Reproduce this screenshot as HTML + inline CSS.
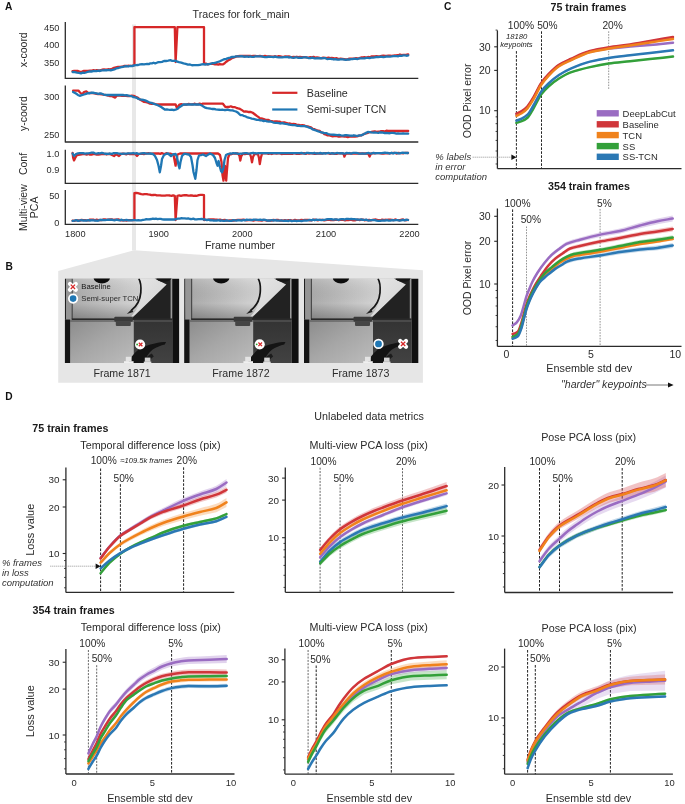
<!DOCTYPE html><html><head><meta charset="utf-8"><style>html,body{margin:0;padding:0;background:#fff;}svg{display:block;will-change:transform;}text{font-family:"Liberation Sans",sans-serif;}</style></head><body>
<svg width="685" height="804" viewBox="0 0 685 804">
<rect x="0" y="0" width="685" height="804" fill="#fff"/>
<defs>
<clipPath id="phClip"><rect x="0" y="0" width="114.5" height="84.5"/></clipPath>
<linearGradient id="gTop" x1="0" y1="0" x2="1" y2="0"><stop offset="0" stop-color="#a8a8a8"/><stop offset="0.35" stop-color="#bebebe"/><stop offset="0.65" stop-color="#d2d2d2"/><stop offset="1" stop-color="#d6d6d6"/></linearGradient>
<linearGradient id="gTopV" x1="0" y1="0" x2="0" y2="1"><stop offset="0" stop-color="#fff" stop-opacity="0.15"/><stop offset="0.6" stop-color="#000" stop-opacity="0"/><stop offset="1" stop-color="#000" stop-opacity="0.25"/></linearGradient>
<linearGradient id="gTri" x1="0" y1="0" x2="1" y2="1"><stop offset="0" stop-color="#e6e6e6"/><stop offset="1" stop-color="#d2d2d2"/></linearGradient>
<linearGradient id="gBot" x1="0" y1="0" x2="1" y2="1"><stop offset="0" stop-color="#8a8a8a"/><stop offset="0.5" stop-color="#a6a6a6"/><stop offset="1" stop-color="#bcbcbc"/></linearGradient>
<linearGradient id="gDark" x1="0" y1="0" x2="0" y2="1"><stop offset="0" stop-color="#333"/><stop offset="1" stop-color="#424242"/></linearGradient>
</defs>
<text x="5.4" y="269.7" font-size="10.2" font-weight="bold" fill="#111">B</text>
<path d="M58.2 271 L134.2 250.2 L422.9 270.2 L422.9 382.7 L58.2 382.7 Z" fill="#e6e6e6"/>
<g transform="translate(64.8 278.6)"><g clip-path="url(#phClip)"><rect x="0" y="0" width="114.5" height="84.5" fill="#a0a0a0"/><rect x="0" y="0" width="108" height="41" fill="url(#gTop)"/><rect x="0" y="0" width="108" height="41" fill="url(#gTopV)"/><rect x="0" y="0" width="1.2" height="84.5" fill="#202020"/><rect x="1.2" y="0" width="5.6" height="41" fill="#959595"/><rect x="6.8" y="0" width="1.2" height="41" fill="#4a4a4a"/><path d="M74 0 L89.7 0 L101.9 5.8 L70.2 36.7 L66 38.2 C71 33, 75 27, 76.5 18 C77 10, 76 5, 74 0 Z" fill="url(#gTri)"/><path d="M89.7 0 L107.5 0 L107.5 41 L66 41 L70.2 36.7 L101.9 5.8 Z" fill="#222"/><rect x="105.8" y="0" width="1.7" height="41" fill="#9a9a9a"/><rect x="107.5" y="0" width="7" height="84.5" fill="#101010"/><rect x="0" y="41" width="69" height="43.5" fill="url(#gBot)"/><rect x="0" y="41" width="5.3" height="43.5" fill="#151515"/><rect x="69" y="41" width="38.5" height="43.5" fill="url(#gDark)"/><rect x="7" y="39.8" width="100.5" height="1.6" fill="#2a2a2a"/><rect x="5.3" y="41.4" width="102" height="2" fill="#5a5a5a" fill-opacity="0.6"/><rect x="49.5" y="38.2" width="18.5" height="5" rx="1" fill="#3a3a3a"/><rect x="51" y="43" width="15" height="4.5" rx="1" fill="#454545"/><ellipse cx="37" cy="-0.5" rx="8.2" ry="5.3" fill="#0c0c0c"/><ellipse cx="99" cy="-0.5" rx="7.5" ry="3.6" fill="#161616"/><path d="M74 0 C75.8 3, 76.5 8, 76 14 C75.3 22, 71.5 28, 66.5 31.8" fill="none" stroke="#151515" stroke-width="1.7"/><path d="M67 30.5 L62 35.5 L68.5 33.5 Z" fill="#222"/><path d="M63.5 84.5 C65 80, 68.5 75.5, 73.8 71 C78 68, 84 66, 90 64.8 C94 64, 98 63.5, 101.3 63.5 L100 66 C96 67, 92 68.5, 88 71 C84 74, 81 79, 79 84.5 Z" fill="#141414"/><path d="M78 84.5 C80 80, 83 77, 87 75 L89 78 C86 80, 85 82, 84 84.5 Z" fill="#1c1c1c"/><rect x="61" y="78.2" width="5.8" height="4.6" fill="#e4e4e4"/><rect x="59.2" y="82.6" width="9.6" height="1.9" fill="#f0f0f0"/><rect x="80" y="79" width="5.6" height="4.2" fill="#d4d4d4"/><rect x="79" y="83" width="7.5" height="1.5" fill="#e0e0e0"/></g></g>
<g transform="translate(184.2 278.6)"><g clip-path="url(#phClip)"><rect x="0" y="0" width="114.5" height="84.5" fill="#a0a0a0"/><rect x="0" y="0" width="108" height="41" fill="url(#gTop)"/><rect x="0" y="0" width="108" height="41" fill="url(#gTopV)"/><rect x="0" y="0" width="1.2" height="84.5" fill="#202020"/><rect x="1.2" y="0" width="5.6" height="41" fill="#959595"/><rect x="6.8" y="0" width="1.2" height="41" fill="#4a4a4a"/><path d="M74 0 L89.7 0 L101.9 5.8 L70.2 36.7 L66 38.2 C71 33, 75 27, 76.5 18 C77 10, 76 5, 74 0 Z" fill="url(#gTri)"/><path d="M89.7 0 L107.5 0 L107.5 41 L66 41 L70.2 36.7 L101.9 5.8 Z" fill="#222"/><rect x="105.8" y="0" width="1.7" height="41" fill="#9a9a9a"/><rect x="107.5" y="0" width="7" height="84.5" fill="#101010"/><rect x="0" y="41" width="69" height="43.5" fill="url(#gBot)"/><rect x="0" y="41" width="5.3" height="43.5" fill="#151515"/><rect x="69" y="41" width="38.5" height="43.5" fill="url(#gDark)"/><rect x="7" y="39.8" width="100.5" height="1.6" fill="#2a2a2a"/><rect x="5.3" y="41.4" width="102" height="2" fill="#5a5a5a" fill-opacity="0.6"/><rect x="49.5" y="38.2" width="18.5" height="5" rx="1" fill="#3a3a3a"/><rect x="51" y="43" width="15" height="4.5" rx="1" fill="#454545"/><ellipse cx="37" cy="-0.5" rx="8.2" ry="5.3" fill="#0c0c0c"/><ellipse cx="99" cy="-0.5" rx="7.5" ry="3.6" fill="#161616"/><path d="M74 0 C75.8 3, 76.5 8, 76 14 C75.3 22, 71.5 28, 66.5 31.8" fill="none" stroke="#151515" stroke-width="1.7"/><path d="M67 30.5 L62 35.5 L68.5 33.5 Z" fill="#222"/><path d="M63.5 84.5 C65 80, 68.5 75.5, 73.8 71 C78 68, 84 66, 90 64.8 C94 64, 98 63.5, 101.3 63.5 L100 66 C96 67, 92 68.5, 88 71 C84 74, 81 79, 79 84.5 Z" fill="#141414"/><path d="M78 84.5 C80 80, 83 77, 87 75 L89 78 C86 80, 85 82, 84 84.5 Z" fill="#1c1c1c"/><rect x="61" y="78.2" width="5.8" height="4.6" fill="#e4e4e4"/><rect x="59.2" y="82.6" width="9.6" height="1.9" fill="#f0f0f0"/><rect x="80" y="79" width="5.6" height="4.2" fill="#d4d4d4"/><rect x="79" y="83" width="7.5" height="1.5" fill="#e0e0e0"/></g></g>
<g transform="translate(304 278.6)"><g clip-path="url(#phClip)"><rect x="0" y="0" width="114.5" height="84.5" fill="#a0a0a0"/><rect x="0" y="0" width="108" height="41" fill="url(#gTop)"/><rect x="0" y="0" width="108" height="41" fill="url(#gTopV)"/><rect x="0" y="0" width="1.2" height="84.5" fill="#202020"/><rect x="1.2" y="0" width="5.6" height="41" fill="#959595"/><rect x="6.8" y="0" width="1.2" height="41" fill="#4a4a4a"/><path d="M74 0 L89.7 0 L101.9 5.8 L70.2 36.7 L66 38.2 C71 33, 75 27, 76.5 18 C77 10, 76 5, 74 0 Z" fill="url(#gTri)"/><path d="M89.7 0 L107.5 0 L107.5 41 L66 41 L70.2 36.7 L101.9 5.8 Z" fill="#222"/><rect x="105.8" y="0" width="1.7" height="41" fill="#9a9a9a"/><rect x="107.5" y="0" width="7" height="84.5" fill="#101010"/><rect x="0" y="41" width="69" height="43.5" fill="url(#gBot)"/><rect x="0" y="41" width="5.3" height="43.5" fill="#151515"/><rect x="69" y="41" width="38.5" height="43.5" fill="url(#gDark)"/><rect x="7" y="39.8" width="100.5" height="1.6" fill="#2a2a2a"/><rect x="5.3" y="41.4" width="102" height="2" fill="#5a5a5a" fill-opacity="0.6"/><rect x="49.5" y="38.2" width="18.5" height="5" rx="1" fill="#3a3a3a"/><rect x="51" y="43" width="15" height="4.5" rx="1" fill="#454545"/><ellipse cx="37" cy="-0.5" rx="8.2" ry="5.3" fill="#0c0c0c"/><ellipse cx="99" cy="-0.5" rx="7.5" ry="3.6" fill="#161616"/><path d="M74 0 C75.8 3, 76.5 8, 76 14 C75.3 22, 71.5 28, 66.5 31.8" fill="none" stroke="#151515" stroke-width="1.7"/><path d="M67 30.5 L62 35.5 L68.5 33.5 Z" fill="#222"/><path d="M63.5 84.5 C65 80, 68.5 75.5, 73.8 71 C78 68, 84 66, 90 64.8 C94 64, 98 63.5, 101.3 63.5 L100 66 C96 67, 92 68.5, 88 71 C84 74, 81 79, 79 84.5 Z" fill="#141414"/><path d="M78 84.5 C80 80, 83 77, 87 75 L89 78 C86 80, 85 82, 84 84.5 Z" fill="#1c1c1c"/><rect x="61" y="78.2" width="5.8" height="4.6" fill="#e4e4e4"/><rect x="59.2" y="82.6" width="9.6" height="1.9" fill="#f0f0f0"/><rect x="80" y="79" width="5.6" height="4.2" fill="#d4d4d4"/><rect x="79" y="83" width="7.5" height="1.5" fill="#e0e0e0"/></g></g>
<text x="122.1" y="376.8" font-size="10.65" text-anchor="middle" fill="#2b2b2b">Frame 1871</text>
<text x="241" y="376.8" font-size="10.65" text-anchor="middle" fill="#2b2b2b">Frame 1872</text>
<text x="360.7" y="376.8" font-size="10.65" text-anchor="middle" fill="#2b2b2b">Frame 1873</text>
<g transform="translate(72.9 286.8)">
<path d="M-2.92 -2.92 L2.92 2.92 M2.92 -2.92 L-2.92 2.92" stroke="#fff" stroke-width="4.2" stroke-linecap="round"/>
<path d="M-2.15 -2.15 L2.15 2.15 M2.15 -2.15 L-2.15 2.15" stroke="#d62728" stroke-width="1.3"/>
</g>
<text x="81.3" y="288.9" font-size="7.7" fill="#151515">Baseline</text>
<circle cx="73.1" cy="298.6" r="4.2" fill="#1f77b4" stroke="#fff" stroke-width="1.8"/>
<text x="81.3" y="301.4" font-size="7.7" fill="#2a2a2a">Semi-super TCN</text>
<circle cx="140.1" cy="344.5" r="5.1" fill="#fff"/>
<circle cx="137.1" cy="344.5" r="0.9" fill="#2ca02c"/>
<path d="M138.8 342.7 l3.6 3.6 M142.4 342.7 l-3.6 3.6" stroke="#d62728" stroke-width="1.3"/>
<circle cx="259.7" cy="344.3" r="5.1" fill="#fff"/>
<circle cx="256.7" cy="344.3" r="0.9" fill="#2ca02c"/>
<path d="M258.4 342.5 l3.6 3.6 M262 342.5 l-3.6 3.6" stroke="#d62728" stroke-width="1.3"/>
<circle cx="378.5" cy="343.9" r="4.3" fill="#1f77b4" stroke="#fff" stroke-width="1.8"/>
<g transform="translate(403.1 343.9)">
<path d="M-2.92 -2.92 L2.92 2.92 M2.92 -2.92 L-2.92 2.92" stroke="#fff" stroke-width="4.2" stroke-linecap="round"/>
<path d="M-2.15 -2.15 L2.15 2.15 M2.15 -2.15 L-2.15 2.15" stroke="#d62728" stroke-width="1.3"/>
</g>
<text x="5" y="9.5" font-size="10.2" font-weight="bold" fill="#111">A</text>
<rect x="132.0" y="24.5" width="4.0" height="226" fill="#e8e8e8"/>
<text x="192.6" y="18.4" font-size="10.65" fill="#2b2b2b">Traces for fork_main</text>
<line x1="65.3" y1="21.9" x2="65.3" y2="78.9" stroke="#2b2b2b" stroke-width="1.3"/>
<line x1="65.3" y1="78.3" x2="418.3" y2="78.3" stroke="#2b2b2b" stroke-width="1.3"/>
<line x1="65.3" y1="85.5" x2="65.3" y2="142.6" stroke="#2b2b2b" stroke-width="1.3"/>
<line x1="65.3" y1="142" x2="418.3" y2="142" stroke="#2b2b2b" stroke-width="1.3"/>
<line x1="65.3" y1="149.8" x2="65.3" y2="183.9" stroke="#2b2b2b" stroke-width="1.3"/>
<line x1="65.3" y1="183.3" x2="418.3" y2="183.3" stroke="#2b2b2b" stroke-width="1.3"/>
<line x1="65.3" y1="190.1" x2="65.3" y2="225" stroke="#2b2b2b" stroke-width="1.3"/>
<line x1="65.3" y1="224.4" x2="418.3" y2="224.4" stroke="#2b2b2b" stroke-width="1.3"/>
<text x="59.4" y="31" font-size="9.2" text-anchor="end" fill="#2b2b2b">450</text>
<text x="59.4" y="48.1" font-size="9.2" text-anchor="end" fill="#2b2b2b">400</text>
<text x="59.4" y="66.1" font-size="9.2" text-anchor="end" fill="#2b2b2b">350</text>
<text x="59.4" y="100.1" font-size="9.2" text-anchor="end" fill="#2b2b2b">300</text>
<text x="59.4" y="138" font-size="9.2" text-anchor="end" fill="#2b2b2b">250</text>
<text x="59.4" y="157" font-size="9.2" text-anchor="end" fill="#2b2b2b">1.0</text>
<text x="59.4" y="173.1" font-size="9.2" text-anchor="end" fill="#2b2b2b">0.9</text>
<text x="59.4" y="199.3" font-size="9.2" text-anchor="end" fill="#2b2b2b">50</text>
<text x="59.4" y="225.6" font-size="9.2" text-anchor="end" fill="#2b2b2b">0</text>
<text x="75.3" y="236.8" font-size="9.2" text-anchor="middle" fill="#2b2b2b">1800</text>
<text x="158.7" y="236.8" font-size="9.2" text-anchor="middle" fill="#2b2b2b">1900</text>
<text x="242.3" y="236.8" font-size="9.2" text-anchor="middle" fill="#2b2b2b">2000</text>
<text x="326" y="236.8" font-size="9.2" text-anchor="middle" fill="#2b2b2b">2100</text>
<text x="409.5" y="236.8" font-size="9.2" text-anchor="middle" fill="#2b2b2b">2200</text>
<text x="205" y="248.9" font-size="10.7" fill="#2b2b2b">Frame number</text>
<text transform="translate(26.9 49.8) rotate(-90)" text-anchor="middle" font-size="10.5" fill="#2b2b2b">x-coord</text>
<text transform="translate(26.9 113.6) rotate(-90)" text-anchor="middle" font-size="10.5" fill="#2b2b2b">y-coord</text>
<text transform="translate(27 164) rotate(-90)" text-anchor="middle" font-size="10.5" fill="#2b2b2b">Conf</text>
<text transform="translate(27 207.6) rotate(-90)" text-anchor="middle" font-size="10.5" fill="#2b2b2b">Multi-view</text>
<text transform="translate(38.2 207.4) rotate(-90)" text-anchor="middle" font-size="10.5" fill="#2b2b2b">PCA</text>
<line x1="272.2" y1="92.8" x2="297.4" y2="92.8" stroke="#d62728" stroke-width="2.2"/>
<line x1="272.2" y1="109.5" x2="297.4" y2="109.5" stroke="#1f77b4" stroke-width="2.2"/>
<text x="306.8" y="96.6" font-size="10.7" fill="#2b2b2b">Baseline</text>
<text x="306.8" y="113.3" font-size="10.7" fill="#2b2b2b">Semi-super TCN</text>
<path d="M72.6 71.2 L74.3 70.84 L76 70.8 L78 70.99 L80 71.8 L82 71.67 L84 70.88 L86 71 L88 70.9 L90 70.61 L92 70.6 L93.6 70.16 L95.2 70.53 L96.8 70.06 L98.4 70.38 L100 70.4 L102 69.75 L104 69.5 L106 69.6 L108 69.27 L110 69.36 L112 68.8 L114 67.86 L116 67.35 L118 67 L120 66.78 L122 66.74 L124 66 L126 66 L128 65.77 L130 65.8 L132.2 65.93 L134.4 65.2 L134.4 27.1 L174.8 27.1 L175.6 62 L177.4 27.1 L204 27.1 L204 64 L205.83 63.64 L207.67 64.42 L209.5 63.96 L211.33 63.88 L213.17 63.91 L215 64.3 L216.6 64.15 L218.2 64.62 L219.8 64.07 L221.4 64.45 L223 64.4 L224.67 63.23 L226.33 61.69 L228 60.5 L230 59.54 L232 58.11 L234 57.5 L236 56.6 L238 56.24 L240 56 L250 56 L251.67 56.19 L253.33 55.98 L255 55.91 L256.67 56.18 L258.33 56.08 L260 55.97 L261.67 56.44 L263.33 56.38 L265 55.99 L266.67 56.32 L268.33 56.3 L270 56.3 L271.75 56.68 L273.5 56.58 L275.25 56.22 L277 56.88 L278.75 56.14 L280.5 56.45 L282.25 56.79 L284 56.6 L285.6 56.33 L287.2 56.67 L288.8 56.31 L290.4 56.91 L292 57.04 L293.6 56.91 L295.2 57.22 L296.8 56.75 L298.4 57.14 L300 57 L301.7 57.12 L303.4 57.15 L305.1 57.08 L306.8 57.47 L308.5 57.6 L310.2 57.22 L311.9 57.43 L313.6 56.92 L315.3 57.54 L317 57.4 L318.64 57.63 L320.27 58.04 L321.91 57.99 L323.55 57.61 L325.18 57.8 L326.82 58.15 L328.45 57.67 L330.09 58.17 L331.73 58 L333.36 58.06 L335 58.5 L336.83 58.24 L338.67 59.01 L340.5 58.57 L342.33 58.81 L344.17 59.07 L346 59.3 L347.67 59.45 L349.33 58.56 L351 58.7 L352.67 58.61 L354.33 58.73 L356 58.2 L357.71 58.32 L359.43 58.18 L361.14 57.49 L362.86 57.44 L364.57 57.22 L366.29 57.52 L368 57 L369.7 57.31 L371.4 56.49 L373.1 56.41 L374.8 56.36 L376.5 56.26 L378.2 56.39 L379.9 56.38 L381.6 55.99 L383.3 55.65 L385 56 L386.66 55.81 L388.31 55.64 L389.97 55.7 L391.63 55.92 L393.29 55.56 L394.94 55.29 L396.6 55.26 L398.26 55.19 L399.91 54.51 L401.57 55.15 L403.23 54.92 L404.89 54.88 L406.54 54.69 L408.2 54.3" fill="none" stroke="#d62728" stroke-width="2.3" stroke-linejoin="round" stroke-linecap="round"/>
<path d="M72.6 72 L74.8 72.2 L77 72.6 L79 72.86 L81 73.3 L82.67 72.68 L84.33 72.89 L86 72.5 L87.83 71.77 L89.67 71.44 L91.5 71.5 L93.2 71.14 L94.9 71 L96.6 71.06 L98.3 70.7 L100 71 L101.79 70.39 L103.57 70.37 L105.36 70.17 L107.14 70.25 L108.93 69.79 L110.71 70.39 L112.5 69.9 L114.33 69.44 L116.17 68.45 L118 68.2 L119.67 67.51 L121.33 67.13 L123 66.8 L124.75 66.48 L126.5 66.06 L128.25 66.51 L130 66 L132.07 66.18 L134.13 65.44 L136.2 65.2 L138.15 64.99 L140.1 64.43 L142.05 64.24 L144 64.4 L145.6 64.06 L147.2 63.79 L148.8 64.1 L150.4 63.3 L152 63.4 L153.6 62.73 L155.2 63.33 L156.8 62.71 L158.4 62.12 L160 62.2 L162 61.84 L164 60.97 L166 61 L168.2 60.63 L170.4 60.2 L172.13 60.8 L173.87 60.86 L175.6 60.7 L177.3 61.63 L179 62.2 L181.25 62.59 L183.5 63.4 L185.75 63.88 L188 64.6 L190 64.5 L192 65.24 L194 65.2 L196 65.1 L198 65.18 L200 64.8 L201.78 64.47 L203.55 64.2 L205.32 64.56 L207.1 64.1 L208.73 64.24 L210.37 63.82 L212 63.2 L213.87 63.08 L215.73 62.69 L217.6 62 L219.8 61.32 L222 60.2 L224.07 59.25 L226.13 58.82 L228.2 58.1 L230.13 57.6 L232.07 56.94 L234 57 L236 56.34 L238 56.33 L240 56.3 L241.73 56.1 L243.47 56.51 L245.2 56.76 L246.93 56.32 L248.67 56.78 L250.4 56.4 L252.03 56.87 L253.67 56.88 L255.3 56.38 L256.93 56.28 L258.57 56.32 L260.2 56.33 L261.83 56.37 L263.47 56.78 L265.1 57.06 L266.73 57.04 L268.37 56.75 L270 56.8 L271.75 56.98 L273.5 57.14 L275.25 56.54 L277 57.09 L278.75 57.36 L280.5 57.28 L282.25 57.29 L284 57.1 L285.6 57.13 L287.2 56.91 L288.8 57.51 L290.4 57.15 L292 57.62 L293.6 57.82 L295.2 57.36 L296.8 57.41 L298.4 57.95 L300 57.6 L301.75 57.85 L303.5 57.4 L305.25 57.41 L307 57.49 L308.75 58.21 L310.5 58.18 L312.25 57.63 L314 58.29 L315.75 58.48 L317.5 58.1 L319.11 58.34 L320.72 58.17 L322.33 58.44 L323.94 58.17 L325.56 58.16 L327.17 59.12 L328.78 58.93 L330.39 58.92 L332 59 L333.75 59.49 L335.5 59.14 L337.25 59.63 L339 59.69 L340.75 59.24 L342.5 59.38 L344.25 59.51 L346 59.8 L347.67 59.4 L349.33 59.54 L351 59.08 L352.67 59.06 L354.33 58.63 L356 58.8 L357.7 59.03 L359.4 58.38 L361.1 58.33 L362.8 58.3 L364.5 58.45 L366.2 57.87 L367.9 57.8 L369.61 58.08 L371.32 57.6 L373.03 57.53 L374.74 57.42 L376.45 56.87 L378.16 57.15 L379.87 56.81 L381.58 56.55 L383.29 57.17 L385 56.8 L386.66 56.41 L388.31 56.58 L389.97 56.7 L391.63 56.45 L393.29 56.14 L394.94 56.22 L396.6 56.15 L398.26 56.26 L399.91 55.55 L401.57 55.85 L403.23 55.47 L404.89 55.4 L406.54 55.75 L408.2 55.4" fill="none" stroke="#1f77b4" stroke-width="2.3" stroke-linejoin="round" stroke-linecap="round"/>
<path d="M73.1 90.6 L78.4 90.6 L80 92.5 L82.3 94.5 L84 92 L86.3 91.4 L88 92.8 L90.4 93.01 L92.8 93.2 L94.6 93.46 L96.4 93.83 L98.2 94.17 L100 94 L101.6 94.25 L103.2 94.7 L104.8 94.9 L106.4 95.21 L108 95.5 L110 96.02 L112 96.2 L113.6 96.86 L115.2 97.6 L117 95.5 L118.75 95.55 L120.5 95.53 L122.25 95.97 L124 95.6 L125.92 95.82 L127.84 96.02 L129.76 96.12 L131.68 95.54 L133.6 95.8 L135.8 96.85 L138 97.8 L140.03 99.57 L142.07 100.84 L144.1 101.9 L146.07 102.14 L148.03 102.69 L150 103.6 L151.8 103.77 L153.6 103.67 L155.4 104.04 L157.2 104.5 L165 104.5 L175.6 104.5 L177 108.2 L179.5 104.5 L181.25 104.07 L183 104.55 L184.75 104.61 L186.5 104.66 L188.25 103.94 L190 104.2 L191.61 104.34 L193.22 104.23 L194.83 103.71 L196.44 104.32 L198.06 104.34 L199.67 103.61 L201.28 104.22 L202.89 103.66 L204.5 103.7 L215 103.7 L222.9 103.7 L225.5 107.1 L227.27 106.82 L229.03 107.01 L230.8 106.3 L232.64 107.12 L234.48 107.04 L236.32 107.8 L238.16 108.39 L240 108.9 L242 110.11 L244 111.6 L245.6 111.4 L247.2 111.59 L248.8 112.02 L250.4 111.9 L252.7 112.77 L255 114.5 L256.8 115.92 L258.6 117.18 L260.4 118.6 L262.02 118.49 L263.64 119.09 L265.27 119.68 L266.89 119.9 L268.51 119.82 L270.13 120.97 L271.76 121.12 L273.38 121.6 L275 121.5 L276.67 121.37 L278.33 121.73 L280 121.75 L281.67 122.64 L283.33 122.4 L285 122.5 L286.67 122.99 L288.33 123.65 L290 123.5 L291.75 124.07 L293.5 123.84 L295.25 124.02 L297 125 L298.75 124.96 L300.5 125.36 L302.25 125.09 L304 125.34 L305.75 126.19 L307.5 126.3 L309.25 126.93 L311 127.32 L312.75 128.79 L314.5 129.22 L316.25 130.07 L318 130.5 L319.6 130.94 L321.2 132.45 L322.8 132.56 L324.4 134.09 L326 134.54 L327.6 135.4 L329.33 135.44 L331.07 135.81 L332.8 136.33 L334.53 135.92 L336.27 135.98 L338 136.5 L339.63 136.62 L341.27 136.46 L342.9 136.45 L344.53 136.6 L346.17 136.6 L347.8 137.1 L349.6 136.68 L351.4 136.63 L353.2 136.47 L355 136.5 L357.07 136.37 L359.13 135.58 L361.2 135.4 L362.8 134.77 L364.4 133.84 L366 133.5 L367.77 132.86 L369.53 132.07 L371.3 132 L373.04 131.66 L374.78 131.32 L376.52 131.85 L378.26 131.57 L380 131.4 L381.6 131.04 L383.2 131.22 L384.8 131.55 L386.4 130.73 L388 131 L400 131 L408.2 131" fill="none" stroke="#d62728" stroke-width="2.3" stroke-linejoin="round" stroke-linecap="round"/>
<path d="M73.1 91.9 L76 93.5 L77.85 94.94 L79.7 95.8 L81.85 95.09 L84 94.5 L86 93.85 L88 93.2 L89.75 93.25 L91.5 92.7 L93.2 92.76 L94.9 93.03 L96.6 93.35 L98.3 93.77 L100 93.5 L101.83 93.73 L103.65 94.55 L105.47 94.81 L107.3 95 L115 95 L123 95 L124.67 95.29 L126.33 95.25 L128 95.5 L129.87 95.9 L131.73 96.17 L133.6 97.1 L135.2 97.32 L136.8 97.81 L138.4 98.97 L140 99.3 L141.68 99.53 L143.35 99.9 L145.02 100.28 L146.7 101.1 L148.47 102.04 L150.23 102.7 L152 103 L153.95 103.98 L155.9 104.45 L157.85 105.24 L159.8 106.3 L161.57 107.25 L163.33 108.53 L165.1 109.7 L166.73 109.43 L168.37 109.72 L170 109.8 L171.87 109.55 L173.73 110.15 L175.6 109.7 L177.3 109.03 L179 107.5 L181.25 106.04 L183.5 104.5 L190 104.5 L199.3 104.5 L201.15 105.12 L203 106.2 L205.05 107.62 L207.1 108.2 L208.73 108.3 L210.37 108.6 L212 109 L213.87 108.78 L215.73 109.36 L217.6 109.7 L219.2 109.75 L220.8 109.85 L222.4 109.66 L224 110 L225.7 110.08 L227.4 109.7 L229.1 110.01 L230.8 110.3 L232.53 110.33 L234.27 111.01 L236 111.5 L238.15 112.84 L240.3 115 L241.92 115.07 L243.53 115.82 L245.15 116.26 L246.77 117.08 L248.38 117.53 L250 118 L251.73 118.61 L253.47 118.91 L255.2 119.34 L256.93 119.87 L258.67 119.82 L260.4 120.3 L262.06 120.39 L263.71 121.22 L265.37 120.71 L267.03 121.47 L268.69 121.64 L270.34 121.35 L272 122 L273.71 122.54 L275.43 122.84 L277.14 122.84 L278.86 123.18 L280.57 123.5 L282.29 123.13 L284 123.7 L285.71 123.95 L287.43 124.16 L289.14 124.69 L290.86 124.89 L292.57 125.14 L294.29 125.15 L296 125.3 L297.64 125.9 L299.29 125.95 L300.93 126.2 L302.57 126.03 L304.21 126.09 L305.86 126.43 L307.5 127 L309.2 127.57 L310.9 128.04 L312.6 129.4 L314.3 129.85 L316 130.5 L317.64 131.13 L319.28 131.65 L320.92 132.22 L322.56 132.57 L324.2 133.1 L326.15 133.03 L328.1 134.12 L330.05 134.45 L332 134.6 L333.8 134.76 L335.6 134.95 L337.4 135.22 L339.2 134.85 L341 135.4 L342.8 135.65 L344.6 135.26 L346.4 135.14 L348.2 135.35 L350 135.6 L351.87 135.77 L353.73 135.27 L355.6 135.72 L357.47 135.89 L359.33 135.43 L361.2 135.4 L364 134 L365.95 132.89 L367.9 132 L369.67 132.11 L371.45 132.42 L373.23 132.62 L375 132.5 L376.62 132.68 L378.25 132.78 L379.88 132.34 L381.5 132.48 L383.12 132.65 L384.75 133.17 L386.38 132.85 L388 133.1 L389.67 133.23 L391.33 132.79 L393 132.9 L394.67 133.16 L396.33 133.59 L398 133.5 L399.7 133.71 L401.4 133.72 L403.1 133.41 L404.8 133.65 L406.5 133.63 L408.2 133.7" fill="none" stroke="#1f77b4" stroke-width="2.3" stroke-linejoin="round" stroke-linecap="round"/>
<path d="M72.6 153 L73.2 158 L74 160.5 L75.2 158 L77 155 L80 154.5 L81.67 154.37 L83.33 153.96 L85 154.2 L86.67 154.57 L88.33 153.95 L90 154.66 L91.67 154.64 L93.33 153.82 L95 154.23 L96.67 154.57 L98.33 154.71 L100 154.3 L101.67 154.2 L103.33 153.99 L105 153.89 L106.67 154.5 L108.33 153.79 L110 154 L112 155.07 L114 156 L116 154.3 L119 156 L121 154 L122.75 153.65 L124.5 153.97 L126.25 154.33 L128 153.57 L129.75 154.16 L131.5 153.86 L133.25 154.17 L135 153.8 L137 156 L139 153.8 L140.63 153.97 L142.26 153.53 L143.89 154.11 L145.53 153.72 L147.16 153.29 L148.79 153.26 L150.42 153.68 L152.05 153.63 L153.68 153.48 L155.32 153.32 L156.95 153.49 L158.58 153.44 L160.21 153.9 L161.84 153.13 L163.47 153.79 L165.11 153.85 L166.74 153.19 L168.37 153.9 L170 153.5 L171.75 154.19 L173.5 154.5 L174.5 160 L175.6 165.7 L176.5 160 L177.5 154.5 L180 153.5 L218 153.5 L220 155 L221.5 162 L222.5 175 L223.5 180.7 L224.3 172 L225 166 L225.7 175 L226.2 180.7 L227 170 L228 158 L229.5 154 L231.2 154.26 L232.9 153.61 L234.6 153.58 L236.3 153.5 L238 153.5 L239.5 156 L240.3 160.6 L241.3 156 L243 153.6 L244.75 154.15 L246.5 153.88 L248.25 153.77 L250 154 L251 157 L252 162.3 L253 157 L254.5 154 L256.25 154.09 L258 154.3 L259 158 L259.8 164 L260.8 158 L262 153.6 L263.62 153.4 L265.24 153.19 L266.86 153.24 L268.48 153.89 L270.1 153.4 L271.72 153.98 L273.34 153.36 L274.96 153.37 L276.58 153.59 L278.2 153.3 L279.82 153.46 L281.44 153.99 L283.06 153.92 L284.68 153.85 L286.3 153.69 L287.92 153.94 L289.54 153.96 L291.16 153.61 L292.78 153.76 L294.4 153.15 L296.02 153.77 L297.64 153.51 L299.26 153.78 L300.88 153.68 L302.5 153.36 L304.12 153.14 L305.74 153.93 L307.36 153.21 L308.98 153.52 L310.6 153.4 L312.22 153.36 L313.84 153.75 L315.46 153.96 L317.08 153.32 L318.7 153.67 L320.32 153.35 L321.94 153.58 L323.56 153.43 L325.18 153.22 L326.8 153.22 L328.42 153.26 L330.04 153.88 L331.66 153.51 L333.28 153.26 L334.9 153.88 L336.52 153.95 L338.14 153.46 L339.76 153.18 L341.38 153.23 L343 153.5 L344 155 L344.4 156.6 L345 155 L346 153.5 L368 153.5 L369 155 L369.6 156.6 L370.3 155 L371 153.5 L372.61 153.11 L374.22 153.31 L375.83 153.07 L377.43 153.18 L379.04 153.17 L380.65 153.43 L382.26 153.7 L383.87 153.55 L385.48 153.23 L387.09 153.21 L388.7 153.28 L390.3 153.13 L391.91 153.07 L393.52 152.8 L395.13 152.97 L396.74 153.57 L398.35 152.79 L399.96 153.11 L401.57 153.2 L403.17 153.39 L404.78 152.79 L406.39 152.82 L408 153" fill="none" stroke="#d62728" stroke-width="2.3" stroke-linejoin="round" stroke-linecap="round"/>
<path d="M72.6 153.5 L74 156 L76 154 L78 153.3 L79.71 153.03 L81.43 153.12 L83.14 153.12 L84.86 153.54 L86.57 153.4 L88.29 153.38 L90 153 L91.67 152.61 L93.33 152.66 L95 153.31 L96.67 153.52 L98.33 153.18 L100 153.33 L101.67 152.84 L103.33 153.24 L105 153.76 L106.67 153.71 L108.33 153.78 L110 153.5 L111.67 153.92 L113.33 153.26 L115 153.12 L116.67 153.16 L118.33 153.48 L120 153.61 L121.67 153.84 L123.33 153.63 L125 153.56 L126.67 153.65 L128.33 153.37 L130 153.4 L131.67 153.45 L133.33 153 L135 153.68 L136.67 153.19 L138.33 153.82 L140 153.58 L141.67 153.28 L143.33 153.13 L145 153.25 L146.67 153.61 L148.33 153.67 L150 153.5 L153 154 L155 156 L157 160 L158.6 166 L159.8 172.3 L161 166 L162 159 L164 155 L166 153.9 L168 153.5 L171 156 L173 154.5 L175.6 154 L177 157 L178.5 165 L179.5 168.3 L180.5 162 L182 156 L184 154 L185.67 153.78 L187.33 154.36 L189 154.5 L191 157 L192.5 165 L193.5 172 L195.3 178.8 L196.5 170 L197.5 160 L199 155.5 L201 155.07 L203 154.5 L206 156 L208 154.65 L210 153.5 L213 155 L215 158 L216.5 163 L217.6 165.7 L218.6 161 L220 167.3 L221 171 L222 172.3 L223.5 168 L224.5 160 L226 155 L228 154 L230 153.5 L231.67 153.57 L233.33 153.03 L235 153.27 L236.67 153.4 L238.33 153.83 L240 153.53 L241.67 153.73 L243.33 153.34 L245 153.11 L246.67 153.11 L248.33 153.73 L250 153.48 L251.67 153.11 L253.33 152.84 L255 153.25 L256.67 153.39 L258.33 153.14 L260 153.2 L300 153.2 L301.6 152.99 L303.2 153.36 L304.8 153.59 L306.4 152.97 L308 152.8 L309.6 153.08 L311.2 153.16 L312.8 153.4 L314.4 152.96 L316 153.51 L317.6 153.46 L319.2 153.25 L320.8 152.99 L322.4 153.68 L324 153.09 L325.6 153.55 L327.2 153.03 L328.8 153.02 L330.4 153.51 L332 153.1 L333.6 153.69 L335.2 153.28 L336.8 153.01 L338.4 153.05 L340 153.3 L341.6 153.22 L343.2 153.44 L344.8 153.69 L346.4 152.97 L348 153.18 L349.6 153.02 L351.2 153.7 L352.8 152.95 L354.4 152.86 L356 152.86 L357.6 153.16 L359.2 153.61 L360.8 153.59 L362.4 153.45 L364 153.69 L365.6 153.62 L367.2 153.08 L368.8 152.94 L370.4 153.62 L372 153.44 L373.6 152.79 L375.2 153.36 L376.8 153.1 L378.4 153.09 L380 153.2 L381.65 153.04 L383.29 152.88 L384.94 152.72 L386.59 152.95 L388.24 153.01 L389.88 153.54 L391.53 152.78 L393.18 153.52 L394.82 152.83 L396.47 152.95 L398.12 153.36 L399.76 153.35 L401.41 152.99 L403.06 152.63 L404.71 153 L406.35 152.9 L408 153" fill="none" stroke="#1f77b4" stroke-width="2.3" stroke-linejoin="round" stroke-linecap="round"/>
<path d="M72.6 220.6 L74.37 220.92 L76.14 220.21 L77.91 220.31 L79.69 220.73 L81.46 219.89 L83.23 220.18 L85 220.2 L86.67 220.44 L88.33 220.35 L90 219.65 L91.67 219.6 L93.33 219.58 L95 220.31 L96.67 219.67 L98.33 220.07 L100 219.8 L101.67 220.09 L103.33 219.52 L105 219.4 L106.67 219.95 L108.33 219.57 L110 219.4 L111.67 219.29 L113.33 219.79 L115 219.53 L116.67 219.6 L118.33 219.45 L120 220 L121.6 220.27 L123.2 220.45 L124.8 220.24 L126.4 220.56 L128 220.2 L134.4 220.2 L134.4 193.1 L136.12 192.84 L137.84 193.21 L139.55 193.6 L141.27 194.2 L142.99 194.37 L144.71 194.03 L146.43 194.09 L148.15 194.42 L149.86 194.65 L151.58 195.21 L153.3 195 L154.98 194.79 L156.65 195.42 L158.32 195.44 L160 195.3 L161.64 195.65 L163.29 195.66 L164.93 195.56 L166.58 195.37 L168.22 195.42 L169.87 195.51 L171.51 195.94 L173.16 195.37 L174.8 195.8 L175.6 220 L177.4 195.8 L179.2 195.48 L181 195.94 L182.8 195.44 L184.6 195.24 L186.4 195.17 L188.2 195.59 L190 195.5 L191.75 195.31 L193.5 195.86 L195.25 195.73 L197 195.79 L198.75 195.1 L200.5 194.9 L202.25 194.87 L204 195.2 L204 220 L205.6 219.88 L207.2 219.95 L208.8 219.59 L210.4 219.28 L212 219.4 L213.6 219.37 L215.2 219.59 L216.8 219.68 L218.4 219.78 L220 219.6 L221.6 220.11 L223.2 220.15 L224.8 219.86 L226.4 220.71 L228 220.6 L229.6 220.33 L231.2 220.5 L232.8 220.25 L234.4 220.49 L236 220.2 L237.8 219.89 L239.6 219.89 L241.4 219.85 L243.2 219.73 L245 220 L246.67 220.37 L248.33 220.11 L250 219.9 L251.67 219.99 L253.33 220.54 L255 220.13 L256.67 219.9 L258.33 220.44 L260 220.32 L261.67 220.64 L263.33 219.86 L265 220.22 L266.67 220.55 L268.33 220.59 L270 220.3 L271.67 220.67 L273.33 219.88 L275 220.1 L276.67 219.94 L278.33 219.99 L280 220.69 L281.67 220.34 L283.33 220.64 L285 220.14 L286.67 220.57 L288.33 220.19 L290 220.02 L291.67 220.48 L293.33 220.62 L295 219.86 L296.67 220.3 L298.33 220.31 L300 220.2 L301.61 219.94 L303.22 220.07 L304.84 219.86 L306.45 219.91 L308.06 219.95 L309.67 220.25 L311.28 220.29 L312.9 219.89 L314.51 219.71 L316.12 219.98 L317.73 220.29 L319.34 219.84 L320.96 219.95 L322.57 219.85 L324.18 220.38 L325.79 220.15 L327.4 219.71 L329.01 219.73 L330.63 219.99 L332.24 220.13 L333.85 220.2 L335.46 219.7 L337.07 219.76 L338.69 220.23 L340.3 219.97 L341.91 219.85 L343.52 219.87 L345.13 220.44 L346.75 219.86 L348.36 220.08 L349.97 219.89 L351.58 219.93 L353.19 220.33 L354.81 220.44 L356.42 219.87 L358.03 219.71 L359.64 220.18 L361.25 219.71 L362.87 219.52 L364.48 220.32 L366.09 219.89 L367.7 220.24 L369.31 219.86 L370.93 220.28 L372.54 219.9 L374.15 219.62 L375.76 219.48 L377.37 219.96 L378.99 220.03 L380.6 220.27 L382.21 219.53 L383.82 220 L385.43 219.77 L387.04 219.88 L388.66 219.55 L390.27 219.67 L391.88 219.88 L393.49 220.24 L395.1 219.5 L396.72 219.83 L398.33 220.11 L399.94 220.25 L401.55 219.55 L403.16 219.48 L404.78 220.21 L406.39 220.23 L408 219.8" fill="none" stroke="#d62728" stroke-width="2.3" stroke-linejoin="round" stroke-linecap="round"/>
<path d="M72.6 220.8 L74.45 220.66 L76.3 220.15 L78.15 220.81 L80 220.3 L81.67 220.22 L83.33 220.71 L85 220.47 L86.67 220.68 L88.33 220.11 L90 220.69 L91.67 220.21 L93.33 220.39 L95 220.5 L96.67 220.73 L98.33 220.64 L100 219.98 L101.67 219.94 L103.33 220.02 L105 220.05 L106.67 219.85 L108.33 219.54 L110 219.8 L111.67 219.62 L113.33 220.09 L115 220.29 L116.67 219.56 L118.33 220.08 L120 220.3 L121.67 219.7 L123.33 220.46 L125 220.2 L126.67 219.87 L128.33 220.31 L130 220.28 L131.67 220.36 L133.33 220.08 L135 220.19 L136.67 220.35 L138.33 220.22 L140 220.3 L141.6 220.24 L143.2 219.85 L144.8 219.64 L146.4 219.07 L148 219.3 L149.6 219.27 L151.2 219.01 L152.8 218.64 L154.4 218.98 L156 218.6 L157.6 219.03 L159.2 218.92 L160.8 218.85 L162.4 219.3 L164 219.5 L175 219.5 L176.6 218.91 L178.2 218.69 L179.8 218.72 L181.4 218.17 L183 218.3 L184.75 218.42 L186.5 218.66 L188.25 218.41 L190 219 L191.67 219.16 L193.33 218.69 L195 219.31 L196.67 219.38 L198.33 219.18 L200 219.2 L201.71 218.94 L203.43 219.49 L205.14 219.52 L206.86 220.18 L208.57 219.59 L210.29 220.38 L212 220.2 L213.6 220.69 L215.2 220.49 L216.8 220.6 L218.4 220.08 L220 220.83 L221.6 220.43 L223.2 220.89 L224.8 220.89 L226.4 220.26 L228 220.6 L229.71 220.83 L231.43 220.93 L233.14 220.12 L234.86 220.35 L236.57 220.69 L238.29 220.12 L240 220.4 L241.67 220.66 L243.33 220 L245 220.38 L246.67 219.68 L248.33 219.9 L250 219.8 L251.71 220.21 L253.43 219.59 L255.14 219.67 L256.86 219.92 L258.57 219.78 L260.29 219.55 L262 220 L263.64 219.77 L265.27 219.8 L266.91 220.56 L268.55 220.38 L270.18 220.63 L271.82 220.03 L273.45 220.64 L275.09 220.09 L276.73 220.52 L278.36 220.67 L280 220.6 L281.67 220.49 L283.33 220.97 L285 220.7 L286.67 220.74 L288.33 221.03 L290 220.34 L291.67 221.16 L293.33 220.85 L295 220.65 L296.67 221.03 L298.33 220.57 L300 220.8 L301.64 221.15 L303.27 220.69 L304.91 220.4 L306.55 220.67 L308.18 220.29 L309.82 219.96 L311.45 220.38 L313.09 219.67 L314.73 220.27 L316.36 219.67 L318 219.8 L319.69 219.89 L321.38 220.17 L323.08 219.78 L324.77 219.82 L326.46 219.48 L328.15 219.17 L329.85 219.17 L331.54 219.24 L333.23 219.63 L334.92 219.43 L336.62 219.47 L338.31 219.79 L340 219.4 L341.6 219.06 L343.2 219.13 L344.8 219.51 L346.4 218.93 L348 218.9 L349.6 219.21 L351.2 218.98 L352.8 219.19 L354.4 219.06 L356 219.3 L357.75 219.5 L359.5 219.63 L361.25 219.41 L363 219.91 L364.75 219.9 L366.5 219.72 L368.25 220.57 L370 220.3 L371.67 220.11 L373.33 220.07 L375 220.07 L376.67 220.6 L378.33 220.86 L380 220.82 L381.67 220.52 L383.33 220.44 L385 220.7 L386.83 220.18 L388.67 220.66 L390.5 220.51 L392.33 220.23 L394.17 220.41 L396 220.2 L397.71 220.12 L399.43 220.54 L401.14 220.32 L402.86 219.86 L404.57 220.42 L406.29 219.62 L408 220" fill="none" stroke="#1f77b4" stroke-width="2.3" stroke-linejoin="round" stroke-linecap="round"/>
<text x="444" y="9.5" font-size="10.2" font-weight="bold" fill="#111">C</text>
<text x="588.5" y="11" font-size="10.7" text-anchor="middle" font-weight="bold" fill="#1a1a1a">75 train frames</text>
<line x1="497.4" y1="30.4" x2="497.4" y2="168.6" stroke="#2b2b2b" stroke-width="1.3"/>
<line x1="494.2" y1="110.7" x2="497.4" y2="110.7" stroke="#2b2b2b" stroke-width="1.1"/>
<text x="490.6" y="114.46" font-size="10.5" text-anchor="end" fill="#2b2b2b">10</text>
<line x1="494.2" y1="70.39" x2="497.4" y2="70.39" stroke="#2b2b2b" stroke-width="1.1"/>
<text x="490.6" y="74.15" font-size="10.5" text-anchor="end" fill="#2b2b2b">20</text>
<line x1="494.2" y1="46.81" x2="497.4" y2="46.81" stroke="#2b2b2b" stroke-width="1.1"/>
<text x="490.6" y="50.57" font-size="10.5" text-anchor="end" fill="#2b2b2b">30</text>
<line x1="495.6" y1="163.98" x2="497.4" y2="163.98" stroke="#2b2b2b" stroke-width="0.9"/>
<line x1="495.6" y1="151.01" x2="497.4" y2="151.01" stroke="#2b2b2b" stroke-width="0.9"/>
<line x1="495.6" y1="140.41" x2="497.4" y2="140.41" stroke="#2b2b2b" stroke-width="0.9"/>
<line x1="495.6" y1="131.44" x2="497.4" y2="131.44" stroke="#2b2b2b" stroke-width="0.9"/>
<line x1="495.6" y1="123.68" x2="497.4" y2="123.68" stroke="#2b2b2b" stroke-width="0.9"/>
<line x1="495.6" y1="116.83" x2="497.4" y2="116.83" stroke="#2b2b2b" stroke-width="0.9"/>
<line x1="495.6" y1="30.08" x2="497.4" y2="30.08" stroke="#2b2b2b" stroke-width="0.9"/>
<line x1="497.4" y1="168.6" x2="681.5" y2="168.6" stroke="#2b2b2b" stroke-width="1.3"/>
<text transform="translate(470.6 100.9) rotate(-90)" text-anchor="middle" font-size="10.5" fill="#2b2b2b">OOD Pixel error</text>
<text x="507.8" y="29.4" font-size="10.25" fill="#2b2b2b">100%</text>
<text x="537.2" y="29.4" font-size="10.2" fill="#2b2b2b">50%</text>
<text x="602.4" y="29.4" font-size="10.2" fill="#2b2b2b">20%</text>
<text x="516.6" y="38.9" font-size="7.7" text-anchor="middle" font-style="italic" fill="#222">18180</text>
<text x="516.4" y="46.6" font-size="7.7" text-anchor="middle" font-style="italic" fill="#222">keypoints</text>
<line x1="516.4" y1="51.1" x2="516.4" y2="168.6" stroke="#222" stroke-width="1" stroke-dasharray="2.6 1.4"/>
<line x1="541.5" y1="31.3" x2="541.5" y2="168.6" stroke="#222" stroke-width="1" stroke-dasharray="2.6 1.4"/>
<line x1="608.7" y1="31.3" x2="608.7" y2="89.2" stroke="#777" stroke-width="0.8" stroke-dasharray="1.6 1.2"/>
<text x="435.3" y="159.7" font-size="9.5" font-style="italic" fill="#333">% labels</text>
<text x="435.3" y="170" font-size="9.5" font-style="italic" fill="#333">in error</text>
<text x="435.3" y="180" font-size="9.5" font-style="italic" fill="#333">computation</text>
<line x1="472.7" y1="157.2" x2="511.4" y2="157.2" stroke="#888" stroke-width="0.9" stroke-dasharray="1 1"/>
<path d="M511.4 154.4 L516.4 157.2 L511.4 160 Z" fill="#111"/>
<path d="M516.4 113.4 C518.17 112.6 519.93 112.03 521.7 111 C523.63 109.87 525.57 108.26 527.5 106.2 C529.47 104.11 531.43 100.63 533.4 97.4 C536.03 93.08 538.67 86.66 541.3 82.8 C543.7 79.28 546.1 76.5 548.5 74 C552 70.35 555.5 66.84 559 64.6 C562.9 62.1 566.8 60.55 570.7 58.8 C577.13 55.91 583.57 52.54 590 51 C596.23 49.5 602.47 48.56 608.7 47.8 C615.8 46.93 622.9 46.41 630 45.8 C636.67 45.22 643.33 44.79 650 44.2 C657.67 43.52 665.33 42.67 673 41.9 L673 43.5 L650 45.8 L630 47.4 L608.7 49.4 L590 52.6 L570.7 60.4 L559 66.2 L548.5 75.6 L541.3 84.4 L533.4 99 L527.5 107.8 L521.7 112.6 L516.4 115 Z" fill="#9a6cc2" fill-opacity="0.3" stroke="none"/>
<path d="M516.4 122.1 C518.17 121.53 519.93 121.14 521.7 120.4 C523.63 119.59 525.57 118.58 527.5 116.9 C529.47 115.19 531.43 110.97 533.4 107.7 C536.03 103.32 538.67 97.05 541.3 93.5 C543.7 90.27 546.1 87.87 548.5 85.7 C552 82.53 555.5 79.87 559 77.7 C562.9 75.28 566.8 73.04 570.7 71.6 C577.13 69.23 583.57 67.73 590 66.3 C596.23 64.91 602.47 63.66 608.7 62.8 C615.8 61.82 622.9 61.29 630 60.5 C636.67 59.76 643.33 58.93 650 58.2 C657.67 57.36 665.33 56.6 673 55.8 L673 57.4 L650 59.8 L630 62.1 L608.7 64.4 L590 67.9 L570.7 73.2 L559 79.3 L548.5 87.3 L541.3 95.1 L533.4 109.3 L527.5 118.5 L521.7 122 L516.4 123.7 Z" fill="#33a03a" fill-opacity="0.3" stroke="none"/>
<path d="M516.4 119.8 C518.17 119.13 519.93 118.65 521.7 117.8 C523.63 116.87 525.57 115.71 527.5 113.9 C529.47 112.05 531.43 107.96 533.4 104.7 C536.03 100.33 538.67 94.17 541.3 90.6 C543.7 87.35 546.1 84.96 548.5 82.7 C552 79.41 555.5 76.49 559 74.2 C562.9 71.64 566.8 69.53 570.7 67.8 C577.13 64.95 583.57 62.44 590 60.8 C596.23 59.21 602.47 58.05 608.7 57.1 C615.8 56.02 622.9 55.34 630 54.5 C636.67 53.71 643.33 52.97 650 52.2 C657.67 51.31 665.33 50.4 673 49.5 L673 51.1 L650 53.8 L630 56.1 L608.7 58.7 L590 62.4 L570.7 69.4 L559 75.8 L548.5 84.3 L541.3 92.2 L533.4 106.3 L527.5 115.5 L521.7 119.4 L516.4 121.4 Z" fill="#2b78b4" fill-opacity="0.3" stroke="none"/>
<path d="M516.4 112.8 C518.17 112 519.93 111.44 521.7 110.4 C523.63 109.27 525.57 107.59 527.5 105.5 C529.47 103.37 531.43 99.83 533.4 96.6 C536.03 92.27 538.67 86.04 541.3 82.2 C543.7 78.7 546.1 75.9 548.5 73.4 C552 69.75 555.5 66.27 559 64 C562.9 61.47 566.8 59.88 570.7 58.1 C577.13 55.17 583.57 51.88 590 50.2 C596.23 48.57 602.47 47.6 608.7 46.6 C615.8 45.46 622.9 44.79 630 43.7 C636.67 42.68 643.33 41.36 650 40.2 C657.67 38.86 665.33 37.53 673 36.2 L673 37.8 L650 41.8 L630 45.3 L608.7 48.2 L590 51.8 L570.7 59.7 L559 65.6 L548.5 75 L541.3 83.8 L533.4 98.2 L527.5 107.1 L521.7 112 L516.4 114.4 Z" fill="#d0363a" fill-opacity="0.3" stroke="none"/>
<path d="M516.4 115 C518.17 114.17 519.93 113.57 521.7 112.5 C523.63 111.33 525.57 109.62 527.5 107.5 C529.47 105.34 531.43 101.85 533.4 98.6 C536.03 94.25 538.67 87.92 541.3 84 C543.7 80.43 546.1 77.56 548.5 75 C552 71.27 555.5 67.69 559 65.4 C562.9 62.85 566.8 61.3 570.7 59.5 C577.13 56.53 583.57 53.09 590 51.4 C596.23 49.76 602.47 48.82 608.7 47.8 C615.8 46.64 622.9 45.85 630 44.8 C636.67 43.82 643.33 42.74 650 41.7 C657.67 40.51 665.33 39.3 673 38.1 L673 39.7 L650 43.3 L630 46.4 L608.7 49.4 L590 53 L570.7 61.1 L559 67 L548.5 76.6 L541.3 85.6 L533.4 100.2 L527.5 109.1 L521.7 114.1 L516.4 116.6 Z" fill="#f0821c" fill-opacity="0.3" stroke="none"/>
<path d="M516.4 114.2 C518.17 113.4 519.93 112.83 521.7 111.8 C523.63 110.67 525.57 109.06 527.5 107 C529.47 104.91 531.43 101.43 533.4 98.2 C536.03 93.88 538.67 87.46 541.3 83.6 C543.7 80.08 546.1 77.3 548.5 74.8 C552 71.15 555.5 67.64 559 65.4 C562.9 62.9 566.8 61.35 570.7 59.6 C577.13 56.71 583.57 53.34 590 51.8 C596.23 50.3 602.47 49.36 608.7 48.6 C615.8 47.73 622.9 47.21 630 46.6 C636.67 46.02 643.33 45.59 650 45 C657.67 44.32 665.33 43.47 673 42.7" fill="none" stroke="#9a6cc2" stroke-width="2.5" stroke-linejoin="round" stroke-linecap="round"/>
<path d="M516.4 122.9 C518.17 122.33 519.93 121.94 521.7 121.2 C523.63 120.39 525.57 119.38 527.5 117.7 C529.47 115.99 531.43 111.77 533.4 108.5 C536.03 104.12 538.67 97.85 541.3 94.3 C543.7 91.07 546.1 88.67 548.5 86.5 C552 83.33 555.5 80.67 559 78.5 C562.9 76.08 566.8 73.84 570.7 72.4 C577.13 70.03 583.57 68.53 590 67.1 C596.23 65.71 602.47 64.46 608.7 63.6 C615.8 62.62 622.9 62.09 630 61.3 C636.67 60.56 643.33 59.73 650 59 C657.67 58.16 665.33 57.4 673 56.6" fill="none" stroke="#33a03a" stroke-width="2.5" stroke-linejoin="round" stroke-linecap="round"/>
<path d="M516.4 120.6 C518.17 119.93 519.93 119.45 521.7 118.6 C523.63 117.67 525.57 116.51 527.5 114.7 C529.47 112.85 531.43 108.76 533.4 105.5 C536.03 101.13 538.67 94.97 541.3 91.4 C543.7 88.15 546.1 85.76 548.5 83.5 C552 80.21 555.5 77.29 559 75 C562.9 72.44 566.8 70.33 570.7 68.6 C577.13 65.75 583.57 63.24 590 61.6 C596.23 60.01 602.47 58.85 608.7 57.9 C615.8 56.82 622.9 56.14 630 55.3 C636.67 54.51 643.33 53.77 650 53 C657.67 52.11 665.33 51.2 673 50.3" fill="none" stroke="#2b78b4" stroke-width="2.5" stroke-linejoin="round" stroke-linecap="round"/>
<path d="M516.4 113.6 C518.17 112.8 519.93 112.24 521.7 111.2 C523.63 110.07 525.57 108.39 527.5 106.3 C529.47 104.17 531.43 100.63 533.4 97.4 C536.03 93.07 538.67 86.84 541.3 83 C543.7 79.5 546.1 76.7 548.5 74.2 C552 70.55 555.5 67.07 559 64.8 C562.9 62.27 566.8 60.68 570.7 58.9 C577.13 55.97 583.57 52.68 590 51 C596.23 49.37 602.47 48.4 608.7 47.4 C615.8 46.26 622.9 45.59 630 44.5 C636.67 43.48 643.33 42.16 650 41 C657.67 39.66 665.33 38.33 673 37" fill="none" stroke="#d0363a" stroke-width="2.5" stroke-linejoin="round" stroke-linecap="round"/>
<path d="M516.4 115.8 C518.17 114.97 519.93 114.37 521.7 113.3 C523.63 112.13 525.57 110.42 527.5 108.3 C529.47 106.14 531.43 102.65 533.4 99.4 C536.03 95.05 538.67 88.72 541.3 84.8 C543.7 81.23 546.1 78.36 548.5 75.8 C552 72.07 555.5 68.49 559 66.2 C562.9 63.65 566.8 62.1 570.7 60.3 C577.13 57.33 583.57 53.89 590 52.2 C596.23 50.56 602.47 49.62 608.7 48.6 C615.8 47.44 622.9 46.65 630 45.6 C636.67 44.62 643.33 43.54 650 42.5 C657.67 41.31 665.33 40.1 673 38.9" fill="none" stroke="#f0821c" stroke-width="2.5" stroke-linejoin="round" stroke-linecap="round"/>
<rect x="596.7" y="110.1" width="22.1" height="6.4" fill="#9a6cc2"/>
<text x="622.6" y="116.7" font-size="9.45" fill="#2b2b2b">DeepLabCut</text>
<rect x="596.7" y="121.1" width="22.1" height="6.4" fill="#d0363a"/>
<text x="622.6" y="127.7" font-size="9.45" fill="#2b2b2b">Baseline</text>
<rect x="596.7" y="131.9" width="22.1" height="6.4" fill="#f0821c"/>
<text x="622.6" y="138.5" font-size="9.45" fill="#2b2b2b">TCN</text>
<rect x="596.7" y="142.9" width="22.1" height="6.4" fill="#33a03a"/>
<text x="622.6" y="149.5" font-size="9.45" fill="#2b2b2b">SS</text>
<rect x="596.7" y="153.6" width="22.1" height="6.4" fill="#2b78b4"/>
<text x="622.6" y="160.2" font-size="9.45" fill="#2b2b2b">SS-TCN</text>
<text x="548" y="189.9" font-size="10.7" font-weight="bold" fill="#1a1a1a">354 train frames</text>
<line x1="497.4" y1="208.5" x2="497.4" y2="346.4" stroke="#2b2b2b" stroke-width="1.3"/>
<line x1="494.2" y1="284" x2="497.4" y2="284" stroke="#2b2b2b" stroke-width="1.1"/>
<text x="490.6" y="287.76" font-size="10.5" text-anchor="end" fill="#2b2b2b">10</text>
<line x1="494.2" y1="241.28" x2="497.4" y2="241.28" stroke="#2b2b2b" stroke-width="1.1"/>
<text x="490.6" y="245.04" font-size="10.5" text-anchor="end" fill="#2b2b2b">20</text>
<line x1="494.2" y1="216.3" x2="497.4" y2="216.3" stroke="#2b2b2b" stroke-width="1.1"/>
<text x="490.6" y="220.06" font-size="10.5" text-anchor="end" fill="#2b2b2b">30</text>
<line x1="495.6" y1="340.47" x2="497.4" y2="340.47" stroke="#2b2b2b" stroke-width="0.9"/>
<line x1="495.6" y1="326.72" x2="497.4" y2="326.72" stroke="#2b2b2b" stroke-width="0.9"/>
<line x1="495.6" y1="315.48" x2="497.4" y2="315.48" stroke="#2b2b2b" stroke-width="0.9"/>
<line x1="495.6" y1="305.98" x2="497.4" y2="305.98" stroke="#2b2b2b" stroke-width="0.9"/>
<line x1="495.6" y1="297.75" x2="497.4" y2="297.75" stroke="#2b2b2b" stroke-width="0.9"/>
<line x1="495.6" y1="290.49" x2="497.4" y2="290.49" stroke="#2b2b2b" stroke-width="0.9"/>
<line x1="497.4" y1="346.4" x2="681.5" y2="346.4" stroke="#2b2b2b" stroke-width="1.3"/>
<text transform="translate(470.6 278) rotate(-90)" text-anchor="middle" font-size="10.5" fill="#2b2b2b">OOD Pixel error</text>
<text x="504.4" y="207" font-size="10.25" fill="#2b2b2b">100%</text>
<text x="520.7" y="223.3" font-size="10.2" fill="#2b2b2b">50%</text>
<text x="597.1" y="206.7" font-size="10.2" fill="#2b2b2b">5%</text>
<line x1="512.6" y1="209.4" x2="512.6" y2="346.4" stroke="#222" stroke-width="1" stroke-dasharray="2.6 1.4"/>
<line x1="526.5" y1="226.5" x2="526.5" y2="346.4" stroke="#777" stroke-width="0.8" stroke-dasharray="1.6 1.2"/>
<line x1="600.1" y1="209" x2="600.1" y2="346.4" stroke="#777" stroke-width="0.8" stroke-dasharray="1.6 1.2"/>
<text x="506.3" y="357.6" font-size="10.5" text-anchor="middle" fill="#2b2b2b">0</text>
<text x="590.8" y="357.6" font-size="10.5" text-anchor="middle" fill="#2b2b2b">5</text>
<text x="675.3" y="357.6" font-size="10.5" text-anchor="middle" fill="#2b2b2b">10</text>
<text x="589.2" y="371.8" font-size="10.8" text-anchor="middle" fill="#2b2b2b">Ensemble std dev</text>
<text x="561" y="387.6" font-size="10.6" font-style="italic" fill="#333">"harder" keypoints</text>
<line x1="646" y1="385" x2="669" y2="385" stroke="#555" stroke-width="0.8"/>
<path d="M668 382.4 L673.6 385.0 L668 387.6 Z" fill="#111"/>
<path d="M512.6 324 C514 322.92 515.4 322.25 516.8 320.76 C518.1 319.37 519.4 317.09 520.7 314.12 C521.63 311.99 522.57 308.04 523.5 304.9 C524.5 301.53 525.5 297.52 526.5 294.57 C527.5 291.62 528.5 289.28 529.5 286.84 C530.47 284.48 531.43 282.1 532.4 280.11 C534.03 276.76 535.67 273.89 537.3 271.27 C539.73 267.37 542.17 263.93 544.6 260.9 C547.03 257.88 549.47 255.1 551.9 252.83 C554.33 250.57 556.77 248.8 559.2 246.96 C561.63 245.13 564.07 242.89 566.5 241.8 C571 239.76 575.5 238.86 580 237.57 C586.7 235.64 593.4 233.76 600.1 232.28 C606.73 230.82 613.37 230.01 620 228.49 C626.67 226.97 633.33 224.58 640 222.81 C645.83 221.26 651.67 219.71 657.5 218.44 C662.57 217.34 667.63 216.48 672.7 215.5 L672.7 221.5 L657.5 224.16 L640 228.19 L620 233.51 L600.1 236.92 L580 241.83 L566.5 245.8 L559.2 250.84 L551.9 256.57 L544.6 264.5 L537.3 274.73 L532.4 283.49 L529.5 290.16 L526.5 297.83 L523.5 308.1 L520.7 317.28 L516.8 323.84 L512.6 327 Z" fill="#9a6cc2" fill-opacity="0.3" stroke="none"/>
<path d="M512.6 332.5 C513.4 332.26 514.2 332.1 515 331.79 C516.03 331.38 517.07 330.89 518.1 329.87 C519.23 328.74 520.37 324.41 521.5 320.94 C522.33 318.39 523.17 314.92 524 311.93 C524.83 308.94 525.67 305.59 526.5 303.01 C527.5 299.92 528.5 297.29 529.5 294.89 C530.47 292.58 531.43 290.62 532.4 288.68 C533.53 286.4 534.67 284.21 535.8 282.26 C537.5 279.32 539.2 276.76 540.9 274.22 C543.33 270.6 545.77 266.83 548.2 263.98 C550.63 261.13 553.07 258.67 555.5 256.63 C557.93 254.59 560.37 253.05 562.8 251.39 C565.23 249.73 567.67 247.56 570.1 246.64 C573.4 245.39 576.7 244.88 580 244.08 C586.7 242.45 593.4 240.92 600.1 239.55 C606.73 238.2 613.37 237.13 620 235.83 C626.67 234.52 633.33 232.88 640 231.7 C645.83 230.68 651.67 229.94 657.5 228.99 C662.57 228.17 667.63 227.26 672.7 226.4 L672.7 231.4 L657.5 233.81 L640 236.3 L620 240.17 L600.1 243.65 L580 247.92 L570.1 250.36 L562.8 255.01 L555.5 260.17 L548.2 267.42 L540.9 277.58 L535.8 285.54 L532.4 291.92 L529.5 298.11 L526.5 306.19 L524 315.07 L521.5 324.06 L518.1 332.93 L515 334.81 L512.6 335.5 Z" fill="#d0363a" fill-opacity="0.28" stroke="none"/>
<path d="M512.6 335.9 C513.4 335.63 514.2 335.45 515 335.1 C516.03 334.64 517.07 334.08 518.1 333 C519.23 331.82 520.37 328.3 521.5 325 C522.33 322.57 523.17 318.78 524 315.7 C524.83 312.62 525.67 309.09 526.5 306.5 C527.5 303.39 528.5 300.88 529.5 298.5 C530.67 295.72 531.83 293.22 533 291 C534.17 288.78 535.33 286.92 536.5 285 C537.77 282.92 539.03 280.79 540.3 279 C541.73 276.97 543.17 274.99 544.6 273.5 C547.03 270.97 549.47 269.3 551.9 267.3 C554.33 265.3 556.77 263.12 559.2 261.5 C561.63 259.88 564.07 258.42 566.5 257.3 C568.93 256.18 571.37 255.05 573.8 254.5 C575.87 254.04 577.93 253.84 580 253.5 C586.7 252.41 593.4 251.37 600.1 250.2 C606.73 249.04 613.37 247.78 620 246.5 C626.67 245.22 633.33 243.58 640 242.5 C645.83 241.55 651.67 240.99 657.5 240.1 C662.57 239.33 667.63 238.37 672.7 237.5 L672.7 240.5 L657.5 243.1 L640 245.5 L620 249.5 L600.1 253.2 L580 256.5 L573.8 257.5 L566.5 260.3 L559.2 264.5 L551.9 270.3 L544.6 276.5 L540.3 282 L536.5 288 L533 294 L529.5 301.5 L526.5 309.5 L524 318.7 L521.5 328 L518.1 336 L515 338.1 L512.6 338.9 Z" fill="#f0821c" fill-opacity="0.28" stroke="none"/>
<path d="M512.6 335.1 C513.4 334.83 514.2 334.65 515 334.29 C516.03 333.82 517.07 333.2 518.1 332.08 C519.23 330.84 520.37 327.32 521.5 323.96 C522.33 321.49 523.17 317.6 524 314.45 C524.83 311.3 525.67 307.68 526.5 305.04 C527.5 301.88 528.5 299.33 529.5 296.93 C530.67 294.13 531.83 291.64 533 289.41 C534.17 287.18 535.33 285.32 536.5 283.4 C537.77 281.31 539.03 279.18 540.3 277.38 C541.73 275.34 543.17 273.38 544.6 271.86 C547.03 269.28 549.47 267.47 551.9 265.43 C554.33 263.39 556.77 261.28 559.2 259.6 C561.63 257.92 564.07 256.34 566.5 255.16 C568.93 253.99 571.37 252.84 573.8 252.23 C575.87 251.72 577.93 251.46 580 251.11 C586.7 249.96 593.4 249.09 600.1 247.92 C606.73 246.76 613.37 245.36 620 244.03 C626.67 242.7 633.33 241.03 640 239.94 C645.83 239 651.67 238.41 657.5 237.57 C662.57 236.83 667.63 235.99 672.7 235.2 L672.7 239.6 L657.5 241.83 L640 244.06 L620 247.97 L600.1 251.68 L580 254.69 L573.8 255.77 L566.5 258.64 L559.2 263 L551.9 268.77 L544.6 275.14 L540.3 280.62 L536.5 286.6 L533 292.59 L529.5 300.07 L526.5 308.16 L524 317.55 L521.5 327.04 L518.1 335.12 L515 337.31 L512.6 338.1 Z" fill="#33a03a" fill-opacity="0.28" stroke="none"/>
<path d="M512.6 337.1 C513.4 336.83 514.2 336.63 515 336.29 C516.03 335.85 517.07 335.43 518.1 334.47 C519.23 333.41 520.37 329.79 521.5 326.44 C522.33 323.99 523.17 320.07 524 316.93 C524.83 313.79 525.67 310.26 526.5 307.61 C527.5 304.44 528.5 301.81 529.5 299.39 C530.67 296.58 531.83 294.2 533 291.87 C534.17 289.54 535.33 287.26 536.5 285.35 C537.77 283.28 539.03 281.28 540.3 279.83 C541.73 278.19 543.17 277.09 544.6 275.8 C545.8 274.72 547 273.68 548.2 272.68 C550.63 270.64 553.07 268.52 555.5 266.83 C557.93 265.15 560.37 263.93 562.8 262.39 C564.03 261.6 565.27 260.52 566.5 259.96 C568.93 258.87 571.37 258.18 573.8 257.62 C575.87 257.14 577.93 256.83 580 256.48 C586.7 255.35 593.4 254.56 600.1 253.45 C606.73 252.36 613.37 250.84 620 249.83 C626.67 248.81 633.33 247.95 640 247.2 C645.83 246.55 651.67 246.22 657.5 245.49 C662.57 244.86 667.63 243.76 672.7 242.9 L672.7 247.9 L657.5 250.31 L640 251.8 L620 254.17 L600.1 257.55 L580 260.32 L573.8 261.38 L566.5 263.64 L562.8 266.01 L555.5 270.37 L548.2 276.12 L544.6 279.2 L540.3 283.17 L536.5 288.65 L533 295.13 L529.5 302.61 L526.5 310.79 L524 320.07 L521.5 329.56 L518.1 337.53 L515 339.31 L512.6 340.1 Z" fill="#2b78b4" fill-opacity="0.28" stroke="none"/>
<path d="M512.6 325.5 C514 324.43 515.4 323.78 516.8 322.3 C518.1 320.93 519.4 318.66 520.7 315.7 C521.63 313.58 522.57 309.63 523.5 306.5 C524.5 303.14 525.5 299.14 526.5 296.2 C527.5 293.26 528.5 290.93 529.5 288.5 C530.47 286.15 531.43 283.77 532.4 281.8 C534.03 278.46 535.67 275.6 537.3 273 C539.73 269.12 542.17 265.7 544.6 262.7 C547.03 259.7 549.47 256.94 551.9 254.7 C554.33 252.46 556.77 250.71 559.2 248.9 C561.63 247.09 564.07 244.87 566.5 243.8 C571 241.82 575.5 240.95 580 239.7 C586.7 237.84 593.4 236.01 600.1 234.6 C606.73 233.2 613.37 232.45 620 231 C626.67 229.55 633.33 227.21 640 225.5 C645.83 224.01 651.67 222.51 657.5 221.3 C662.57 220.25 667.63 219.43 672.7 218.5" fill="none" stroke="#9a6cc2" stroke-width="2.5" stroke-linejoin="round" stroke-linecap="round"/>
<path d="M512.6 334 C513.4 333.77 514.2 333.61 515 333.3 C516.03 332.9 517.07 332.42 518.1 331.4 C519.23 330.28 520.37 325.96 521.5 322.5 C522.33 319.95 523.17 316.48 524 313.5 C524.83 310.52 525.67 307.17 526.5 304.6 C527.5 301.52 528.5 298.88 529.5 296.5 C530.47 294.19 531.43 292.24 532.4 290.3 C533.53 288.03 534.67 285.85 535.8 283.9 C537.5 280.97 539.2 278.42 540.9 275.9 C543.33 272.29 545.77 268.54 548.2 265.7 C550.63 262.86 553.07 260.42 555.5 258.4 C557.93 256.38 560.37 254.85 562.8 253.2 C565.23 251.55 567.67 249.4 570.1 248.5 C573.4 247.28 576.7 246.78 580 246 C586.7 244.42 593.4 242.93 600.1 241.6 C606.73 240.29 613.37 239.26 620 238 C626.67 236.73 633.33 235.13 640 234 C645.83 233.01 651.67 232.31 657.5 231.4 C662.57 230.61 667.63 229.73 672.7 228.9" fill="none" stroke="#d0363a" stroke-width="2.5" stroke-linejoin="round" stroke-linecap="round"/>
<path d="M512.6 337.4 C513.4 337.13 514.2 336.95 515 336.6 C516.03 336.14 517.07 335.58 518.1 334.5 C519.23 333.32 520.37 329.8 521.5 326.5 C522.33 324.07 523.17 320.28 524 317.2 C524.83 314.12 525.67 310.59 526.5 308 C527.5 304.89 528.5 302.38 529.5 300 C530.67 297.22 531.83 294.72 533 292.5 C534.17 290.28 535.33 288.42 536.5 286.5 C537.77 284.42 539.03 282.29 540.3 280.5 C541.73 278.47 543.17 276.49 544.6 275 C547.03 272.47 549.47 270.8 551.9 268.8 C554.33 266.8 556.77 264.62 559.2 263 C561.63 261.38 564.07 259.92 566.5 258.8 C568.93 257.68 571.37 256.55 573.8 256 C575.87 255.54 577.93 255.34 580 255 C586.7 253.91 593.4 252.87 600.1 251.7 C606.73 250.54 613.37 249.28 620 248 C626.67 246.72 633.33 245.08 640 244 C645.83 243.05 651.67 242.49 657.5 241.6 C662.57 240.83 667.63 239.87 672.7 239" fill="none" stroke="#f0821c" stroke-width="2.5" stroke-linejoin="round" stroke-linecap="round"/>
<path d="M512.6 336.6 C513.4 336.33 514.2 336.16 515 335.8 C516.03 335.34 517.07 334.72 518.1 333.6 C519.23 332.37 520.37 328.86 521.5 325.5 C522.33 323.03 523.17 319.15 524 316 C524.83 312.85 525.67 309.23 526.5 306.6 C527.5 303.44 528.5 300.9 529.5 298.5 C530.67 295.7 531.83 293.22 533 291 C534.17 288.78 535.33 286.92 536.5 285 C537.77 282.92 539.03 280.79 540.3 279 C541.73 276.97 543.17 275.02 544.6 273.5 C547.03 270.93 549.47 269.13 551.9 267.1 C554.33 265.07 556.77 262.97 559.2 261.3 C561.63 259.63 564.07 258.07 566.5 256.9 C568.93 255.73 571.37 254.59 573.8 254 C575.87 253.5 577.93 253.25 580 252.9 C586.7 251.78 593.4 250.94 600.1 249.8 C606.73 248.67 613.37 247.3 620 246 C626.67 244.7 633.33 243.05 640 242 C645.83 241.08 651.67 240.52 657.5 239.7 C662.57 238.99 667.63 238.17 672.7 237.4" fill="none" stroke="#33a03a" stroke-width="2.5" stroke-linejoin="round" stroke-linecap="round"/>
<path d="M512.6 338.6 C513.4 338.33 514.2 338.13 515 337.8 C516.03 337.37 517.07 336.95 518.1 336 C519.23 334.95 520.37 331.33 521.5 328 C522.33 325.55 523.17 321.63 524 318.5 C524.83 315.37 525.67 311.84 526.5 309.2 C527.5 306.03 528.5 303.41 529.5 301 C530.67 298.19 531.83 295.82 533 293.5 C534.17 291.18 535.33 288.9 536.5 287 C537.77 284.94 539.03 282.94 540.3 281.5 C541.73 279.87 543.17 278.78 544.6 277.5 C545.8 276.43 547 275.4 548.2 274.4 C550.63 272.38 553.07 270.27 555.5 268.6 C557.93 266.93 560.37 265.73 562.8 264.2 C564.03 263.43 565.27 262.34 566.5 261.8 C568.93 260.73 571.37 260.05 573.8 259.5 C575.87 259.03 577.93 258.73 580 258.4 C586.7 257.31 593.4 256.56 600.1 255.5 C606.73 254.45 613.37 252.97 620 252 C626.67 251.03 633.33 250.2 640 249.5 C645.83 248.89 651.67 248.59 657.5 247.9 C662.57 247.3 667.63 246.23 672.7 245.4" fill="none" stroke="#2b78b4" stroke-width="2.5" stroke-linejoin="round" stroke-linecap="round"/>
<text x="5.3" y="399.8" font-size="10.2" font-weight="bold" fill="#111">D</text>
<text x="314.3" y="420.3" font-size="10.73" fill="#2b2b2b">Unlabeled data metrics</text>
<text x="32.3" y="431.5" font-size="10.7" font-weight="bold" fill="#1a1a1a">75 train frames</text>
<text x="32.6" y="614" font-size="10.7" font-weight="bold" fill="#1a1a1a">354 train frames</text>
<text transform="translate(34.2 529.8) rotate(-90)" text-anchor="middle" font-size="10.9" fill="#2b2b2b">Loss value</text>
<text transform="translate(34.2 711.3) rotate(-90)" text-anchor="middle" font-size="10.9" fill="#2b2b2b">Loss value</text>
<line x1="65.9" y1="467.5" x2="65.9" y2="592.4" stroke="#2b2b2b" stroke-width="1.3"/>
<line x1="62.7" y1="553.5" x2="65.9" y2="553.5" stroke="#2b2b2b" stroke-width="1.1"/>
<text x="59.5" y="557.04" font-size="9.9" text-anchor="end" fill="#2b2b2b">10</text>
<line x1="62.7" y1="506.99" x2="65.9" y2="506.99" stroke="#2b2b2b" stroke-width="1.1"/>
<text x="59.5" y="510.54" font-size="9.9" text-anchor="end" fill="#2b2b2b">20</text>
<line x1="62.7" y1="479.78" x2="65.9" y2="479.78" stroke="#2b2b2b" stroke-width="1.1"/>
<text x="59.5" y="483.33" font-size="9.9" text-anchor="end" fill="#2b2b2b">30</text>
<line x1="64.1" y1="587.78" x2="65.9" y2="587.78" stroke="#2b2b2b" stroke-width="0.9"/>
<line x1="64.1" y1="577.43" x2="65.9" y2="577.43" stroke="#2b2b2b" stroke-width="0.9"/>
<line x1="64.1" y1="568.47" x2="65.9" y2="568.47" stroke="#2b2b2b" stroke-width="0.9"/>
<line x1="64.1" y1="560.57" x2="65.9" y2="560.57" stroke="#2b2b2b" stroke-width="0.9"/>
<line x1="65.9" y1="592.4" x2="234.3" y2="592.4" stroke="#2b2b2b" stroke-width="1.3"/>
<text x="80.3" y="448.8" font-size="10.75" fill="#2b2b2b">Temporal difference loss (pix)</text>
<text x="90.7" y="464.4" font-size="10.2" fill="#2b2b2b">100%</text>
<text x="113.5" y="481.8" font-size="10.2" fill="#2b2b2b">50%</text>
<text x="176.6" y="464.4" font-size="10.2" fill="#2b2b2b">20%</text>
<line x1="100.6" y1="468.5" x2="100.6" y2="592.4" stroke="#222" stroke-width="1" stroke-dasharray="2.6 1.4"/>
<line x1="120.4" y1="484.2" x2="120.4" y2="592.4" stroke="#222" stroke-width="1" stroke-dasharray="2.6 1.4"/>
<line x1="183.6" y1="467.3" x2="183.6" y2="592.4" stroke="#222" stroke-width="1" stroke-dasharray="2.6 1.4"/>
<path d="M100.6 556.5 C103.6 552.62 106.6 548.32 109.6 544.86 C113.2 540.7 116.8 536.57 120.4 533.69 C123.5 531.2 126.6 529.54 129.7 527.54 C133.23 525.26 136.77 523.09 140.3 520.87 C143.83 518.65 147.37 516.2 150.9 514.2 C154.93 511.92 158.97 510.03 163 508.01 C169.8 504.59 176.6 500.95 183.4 497.98 C188.93 495.57 194.47 493.49 200 491.42 C205.43 489.39 210.87 488.21 216.3 485.66 C219.7 484.07 223.1 481.22 226.5 479 L226.5 486 L216.3 492.34 L200 497.58 L183.4 503.62 L163 512.99 L150.9 518.8 L140.3 525.13 L129.7 531.46 L120.4 537.31 L109.6 548.14 L100.6 559.5 Z" fill="#9a6cc2" fill-opacity="0.3" stroke="none"/>
<path d="M100.6 556.9 C103.6 553 106.6 548.67 109.6 545.19 C113.2 541.02 116.8 536.79 120.4 533.96 C123.5 531.53 126.6 529.99 129.7 528.05 C133.23 525.84 136.77 523.69 140.3 521.53 C143.83 519.37 147.37 516.93 150.9 515.1 C154.93 513.01 158.97 511.2 163 509.66 C169.8 507.05 176.6 505.38 183.4 503.01 C188.93 501.08 194.47 498.68 200 496.82 C205.43 494.99 210.87 493.91 216.3 491.82 C219.7 490.51 223.1 488.47 226.5 486.8 L226.5 492.8 L216.3 497.58 L200 502.18 L183.4 507.99 L163 514.14 L150.9 519.3 L140.3 525.47 L129.7 531.75 L120.4 537.44 L109.6 548.41 L100.6 559.9 Z" fill="#d0363a" fill-opacity="0.28" stroke="none"/>
<path d="M100.6 561.2 C103.6 557.9 106.6 554.15 109.6 551.29 C113.2 547.84 116.8 544.78 120.4 542.23 C123.6 539.96 126.8 538.16 130 536.3 C133.43 534.3 136.87 532.46 140.3 530.65 C143.83 528.8 147.37 526.96 150.9 525.3 C154.93 523.41 158.97 521.58 163 520.01 C169.8 517.37 176.6 515.18 183.4 513.03 C188.93 511.28 194.47 509.69 200 508.13 C205.43 506.6 210.87 505.79 216.3 503.74 C219.7 502.46 223.1 499.85 226.5 497.9 L226.5 506.9 L216.3 512.26 L200 515.87 L183.4 519.97 L163 525.99 L150.9 530.7 L140.3 535.55 L130 540.7 L120.4 546.17 L109.6 554.71 L100.6 564.2 Z" fill="#f0821c" fill-opacity="0.28" stroke="none"/>
<path d="M100.6 571.7 C103.6 568.2 106.6 564.13 109.6 561.2 C113.2 557.68 116.8 554.81 120.4 552.2 C123.6 549.88 126.8 547.78 130 546 C133.43 544.09 136.87 542.56 140.3 541 C143.83 539.4 147.37 538.05 150.9 536.5 C154.93 534.73 158.97 532.56 163 531 C169.8 528.37 176.6 526.12 183.4 524.3 C188.93 522.82 194.47 521.74 200 520.5 C205.43 519.28 210.87 518.51 216.3 516.9 C219.7 515.89 223.1 514.03 226.5 512.6 L226.5 515.6 L216.3 519.9 L200 523.5 L183.4 527.3 L163 534 L150.9 539.5 L140.3 544 L130 549 L120.4 555.2 L109.6 564.2 L100.6 574.7 Z" fill="#33a03a" fill-opacity="0.28" stroke="none"/>
<path d="M100.6 567 C103.6 564.33 106.6 561.33 109.6 559 C113.2 556.2 116.8 553.75 120.4 551.6 C123.6 549.69 126.8 548.02 130 546.5 C133.43 544.87 136.87 543.49 140.3 542.1 C143.83 540.67 147.37 539.31 150.9 538 C154.93 536.5 158.97 535.06 163 533.7 C169.8 531.4 176.6 529.11 183.4 527.2 C188.93 525.65 194.47 524.24 200 523 C205.43 521.78 210.87 521.23 216.3 519.7 C219.7 518.74 223.1 516.83 226.5 515.4 L226.5 518.4 L216.3 522.7 L200 526 L183.4 530.2 L163 536.7 L150.9 541 L140.3 545.1 L130 549.5 L120.4 554.6 L109.6 562 L100.6 570 Z" fill="#2b78b4" fill-opacity="0.28" stroke="none"/>
<path d="M100.6 558 C103.6 554.17 106.6 549.91 109.6 546.5 C113.2 542.41 116.8 538.33 120.4 535.5 C123.5 533.06 126.6 531.45 129.7 529.5 C133.23 527.28 136.77 525.17 140.3 523 C143.83 520.83 147.37 518.44 150.9 516.5 C154.93 514.28 158.97 512.46 163 510.5 C169.8 507.19 176.6 503.66 183.4 500.8 C188.93 498.47 194.47 496.48 200 494.5 C205.43 492.56 210.87 491.46 216.3 489 C219.7 487.46 223.1 484.67 226.5 482.5" fill="none" stroke="#9a6cc2" stroke-width="2.5" stroke-linejoin="round" stroke-linecap="round"/>
<path d="M100.6 558.4 C103.6 554.53 106.6 550.24 109.6 546.8 C113.2 542.67 116.8 538.48 120.4 535.7 C123.5 533.31 126.6 531.8 129.7 529.9 C133.23 527.73 136.77 525.62 140.3 523.5 C143.83 521.38 147.37 518.99 150.9 517.2 C154.93 515.16 158.97 513.4 163 511.9 C169.8 509.38 176.6 507.79 183.4 505.5 C188.93 503.64 194.47 501.3 200 499.5 C205.43 497.74 210.87 496.72 216.3 494.7 C219.7 493.44 223.1 491.43 226.5 489.8" fill="none" stroke="#d0363a" stroke-width="2.5" stroke-linejoin="round" stroke-linecap="round"/>
<path d="M100.6 562.7 C103.6 559.47 106.6 555.8 109.6 553 C113.2 549.64 116.8 546.67 120.4 544.2 C123.6 542.01 126.8 540.28 130 538.5 C133.43 536.59 136.87 534.82 140.3 533.1 C143.83 531.33 147.37 529.57 150.9 528 C154.93 526.2 158.97 524.47 163 523 C169.8 520.53 176.6 518.49 183.4 516.5 C188.93 514.88 194.47 513.43 200 512 C205.43 510.6 210.87 509.9 216.3 508 C219.7 506.81 223.1 504.27 226.5 502.4" fill="none" stroke="#f0821c" stroke-width="2.5" stroke-linejoin="round" stroke-linecap="round"/>
<path d="M100.6 573.2 C103.6 569.7 106.6 565.63 109.6 562.7 C113.2 559.18 116.8 556.31 120.4 553.7 C123.6 551.38 126.8 549.28 130 547.5 C133.43 545.59 136.87 544.06 140.3 542.5 C143.83 540.9 147.37 539.55 150.9 538 C154.93 536.23 158.97 534.06 163 532.5 C169.8 529.87 176.6 527.62 183.4 525.8 C188.93 524.32 194.47 523.24 200 522 C205.43 520.78 210.87 520.01 216.3 518.4 C219.7 517.39 223.1 515.53 226.5 514.1" fill="none" stroke="#33a03a" stroke-width="2.5" stroke-linejoin="round" stroke-linecap="round"/>
<path d="M100.6 568.5 C103.6 565.83 106.6 562.83 109.6 560.5 C113.2 557.7 116.8 555.25 120.4 553.1 C123.6 551.19 126.8 549.52 130 548 C133.43 546.37 136.87 544.99 140.3 543.6 C143.83 542.17 147.37 540.81 150.9 539.5 C154.93 538 158.97 536.56 163 535.2 C169.8 532.9 176.6 530.61 183.4 528.7 C188.93 527.15 194.47 525.74 200 524.5 C205.43 523.28 210.87 522.73 216.3 521.2 C219.7 520.24 223.1 518.33 226.5 516.9" fill="none" stroke="#2b78b4" stroke-width="2.5" stroke-linejoin="round" stroke-linecap="round"/>
<text x="120.3" y="463.4" font-size="7.6" font-style="italic" fill="#222">≈109.5k frames</text>
<text x="1.9" y="565.9" font-size="9.5" font-style="italic" fill="#333">% frames</text>
<text x="1.9" y="575.8" font-size="9.5" font-style="italic" fill="#333">in loss</text>
<text x="1.9" y="586" font-size="9.5" font-style="italic" fill="#333">computation</text>
<line x1="50.3" y1="566.2" x2="95.6" y2="566.2" stroke="#888" stroke-width="0.9" stroke-dasharray="1 1"/>
<path d="M95.6 563.4 L100.6 566.2 L95.6 569 Z" fill="#111"/>
<line x1="285.3" y1="467.5" x2="285.3" y2="592.3" stroke="#2b2b2b" stroke-width="1.3"/>
<line x1="282.1" y1="537.7" x2="285.3" y2="537.7" stroke="#2b2b2b" stroke-width="1.1"/>
<text x="278.9" y="541.24" font-size="9.9" text-anchor="end" fill="#2b2b2b">10</text>
<line x1="282.1" y1="500.1" x2="285.3" y2="500.1" stroke="#2b2b2b" stroke-width="1.1"/>
<text x="278.9" y="503.65" font-size="9.9" text-anchor="end" fill="#2b2b2b">20</text>
<line x1="282.1" y1="478.11" x2="285.3" y2="478.11" stroke="#2b2b2b" stroke-width="1.1"/>
<text x="278.9" y="481.65" font-size="9.9" text-anchor="end" fill="#2b2b2b">30</text>
<line x1="283.5" y1="587.4" x2="285.3" y2="587.4" stroke="#2b2b2b" stroke-width="0.9"/>
<line x1="283.5" y1="575.3" x2="285.3" y2="575.3" stroke="#2b2b2b" stroke-width="0.9"/>
<line x1="283.5" y1="565.41" x2="285.3" y2="565.41" stroke="#2b2b2b" stroke-width="0.9"/>
<line x1="283.5" y1="557.05" x2="285.3" y2="557.05" stroke="#2b2b2b" stroke-width="0.9"/>
<line x1="283.5" y1="549.8" x2="285.3" y2="549.8" stroke="#2b2b2b" stroke-width="0.9"/>
<line x1="283.5" y1="543.42" x2="285.3" y2="543.42" stroke="#2b2b2b" stroke-width="0.9"/>
<line x1="285.3" y1="592.3" x2="454.4" y2="592.3" stroke="#2b2b2b" stroke-width="1.3"/>
<text x="309.6" y="448.6" font-size="10.75" fill="#2b2b2b">Multi-view PCA loss (pix)</text>
<text x="310.5" y="464.9" font-size="10.2" fill="#2b2b2b">100%</text>
<text x="333.4" y="481.8" font-size="10.2" fill="#2b2b2b">50%</text>
<text x="395.9" y="464.9" font-size="10.2" fill="#2b2b2b">20%</text>
<line x1="320.1" y1="467.7" x2="320.1" y2="592.3" stroke="#555" stroke-width="0.9" stroke-dasharray="2 1.3"/>
<line x1="340.1" y1="484.1" x2="340.1" y2="592.3" stroke="#555" stroke-width="0.9" stroke-dasharray="2 1.3"/>
<line x1="402.5" y1="468" x2="402.5" y2="592.3" stroke="#555" stroke-width="0.9" stroke-dasharray="2 1.3"/>
<path d="M320.2 555.2 C323.47 551.47 326.73 547.27 330 544 C333.37 540.63 336.73 537.54 340.1 535 C343.93 532.1 347.77 529.76 351.6 527.5 C355.3 525.31 359 523.27 362.7 521.5 C369.47 518.27 376.23 515.77 383 513 C389.5 510.34 396 507.53 402.5 505.2 C408.33 503.11 414.17 501.34 420 499.5 C428.87 496.7 437.73 494.1 446.6 491.4 L446.6 495.4 L420 503.5 L402.5 509.2 L383 517 L362.7 525.5 L351.6 531.5 L340.1 539 L330 548 L320.2 559.2 Z" fill="#9a6cc2" fill-opacity="0.28" stroke="none"/>
<path d="M320.2 547.4 C323.47 543.56 326.73 539.28 330 535.88 C333.37 532.38 336.73 529.07 340.1 526.46 C343.93 523.5 347.77 521.18 351.6 518.93 C355.3 516.75 359 514.82 362.7 513 C366.43 511.15 370.17 509.45 373.9 507.86 C376.93 506.58 379.97 505.42 383 504.25 C389.5 501.75 396 499.28 402.5 497.02 C408.33 495 414.17 493.28 420 491.32 C428.87 488.33 437.73 485.11 446.6 482 L446.6 490 L420 498.68 L402.5 503.98 L383 510.75 L373.9 514.14 L362.7 519 L351.6 524.67 L340.1 531.94 L330 541.12 L320.2 552.4 Z" fill="#d0363a" fill-opacity="0.28" stroke="none"/>
<path d="M320.2 552.3 C323.47 548.47 326.73 544.15 330 540.8 C333.37 537.34 336.73 534.19 340.1 531.6 C343.93 528.65 347.77 526.28 351.6 524 C355.3 521.8 359 519.77 362.7 518 C369.47 514.77 376.23 512.15 383 509.5 C389.5 506.95 396 504.5 402.5 502.3 C408.33 500.32 414.17 498.6 420 496.8 C428.87 494.07 437.73 491.47 446.6 488.8 L446.6 491.8 L420 499.8 L402.5 505.3 L383 512.5 L362.7 521 L351.6 527 L340.1 534.6 L330 543.8 L320.2 555.3 Z" fill="#f0821c" fill-opacity="0.25" stroke="none"/>
<path d="M320.2 559.2 C323.47 555.47 326.73 551.15 330 548 C333.37 544.76 336.73 541.9 340.1 539.6 C343.93 536.99 347.77 535.04 351.6 533 C355.3 531.03 359 529 362.7 527.5 C369.47 524.77 376.23 522.92 383 520.8 C389.5 518.77 396 516.75 402.5 515 C408.33 513.43 414.17 512.19 420 510.7 C428.87 508.44 437.73 505.97 446.6 503.6 L446.6 508.6 L420 515.7 L402.5 520 L383 525.8 L362.7 532.5 L351.6 538 L340.1 544.6 L330 553 L320.2 564.2 Z" fill="#2b78b4" fill-opacity="0.28" stroke="none"/>
<path d="M320.2 560.8 C323.47 557.51 326.73 553.74 330 550.92 C333.37 548.02 336.73 545.54 340.1 543.34 C343.93 540.84 347.77 538.81 351.6 536.75 C355.3 534.77 359 532.7 362.7 531.16 C369.47 528.35 376.23 526.41 383 524.2 C389.5 522.09 396 519.96 402.5 518.15 C408.33 516.52 414.17 515.15 420 513.71 C428.87 511.52 437.73 509.44 446.6 507.3 L446.6 514.3 L420 520.29 L402.5 524.45 L383 530.2 L362.7 536.84 L351.6 542.25 L340.1 548.66 L330 556.08 L320.2 565.8 Z" fill="#33a03a" fill-opacity="0.28" stroke="none"/>
<path d="M320.2 557.2 C323.47 553.47 326.73 549.27 330 546 C333.37 542.63 336.73 539.54 340.1 537 C343.93 534.1 347.77 531.76 351.6 529.5 C355.3 527.31 359 525.27 362.7 523.5 C369.47 520.27 376.23 517.77 383 515 C389.5 512.34 396 509.53 402.5 507.2 C408.33 505.11 414.17 503.34 420 501.5 C428.87 498.7 437.73 496.1 446.6 493.4" fill="none" stroke="#9a6cc2" stroke-width="2.5" stroke-linejoin="round" stroke-linecap="round"/>
<path d="M320.2 549.9 C323.47 546.1 326.73 541.86 330 538.5 C333.37 535.04 336.73 531.76 340.1 529.2 C343.93 526.28 347.77 524.01 351.6 521.8 C355.3 519.67 359 517.78 362.7 516 C366.43 514.2 370.17 512.54 373.9 511 C376.93 509.75 379.97 508.63 383 507.5 C389.5 505.08 396 502.68 402.5 500.5 C408.33 498.55 414.17 496.9 420 495 C428.87 492.12 437.73 489 446.6 486" fill="none" stroke="#d0363a" stroke-width="2.5" stroke-linejoin="round" stroke-linecap="round"/>
<path d="M320.2 553.8 C323.47 549.97 326.73 545.65 330 542.3 C333.37 538.84 336.73 535.69 340.1 533.1 C343.93 530.15 347.77 527.78 351.6 525.5 C355.3 523.3 359 521.27 362.7 519.5 C369.47 516.27 376.23 513.65 383 511 C389.5 508.45 396 506 402.5 503.8 C408.33 501.82 414.17 500.1 420 498.3 C428.87 495.57 437.73 492.97 446.6 490.3" fill="none" stroke="#f0821c" stroke-width="2.5" stroke-linejoin="round" stroke-linecap="round"/>
<path d="M320.2 561.7 C323.47 557.97 326.73 553.65 330 550.5 C333.37 547.26 336.73 544.4 340.1 542.1 C343.93 539.49 347.77 537.54 351.6 535.5 C355.3 533.53 359 531.5 362.7 530 C369.47 527.27 376.23 525.42 383 523.3 C389.5 521.27 396 519.25 402.5 517.5 C408.33 515.93 414.17 514.69 420 513.2 C428.87 510.94 437.73 508.47 446.6 506.1" fill="none" stroke="#2b78b4" stroke-width="2.5" stroke-linejoin="round" stroke-linecap="round"/>
<path d="M320.2 563.3 C323.47 560.03 326.73 556.29 330 553.5 C333.37 550.63 336.73 548.17 340.1 546 C343.93 543.53 347.77 541.52 351.6 539.5 C355.3 537.55 359 535.51 362.7 534 C369.47 531.24 376.23 529.35 383 527.2 C389.5 525.13 396 523.06 402.5 521.3 C408.33 519.72 414.17 518.4 420 517 C428.87 514.87 437.73 512.87 446.6 510.8" fill="none" stroke="#33a03a" stroke-width="2.5" stroke-linejoin="round" stroke-linecap="round"/>
<line x1="504.7" y1="467" x2="504.7" y2="592.5" stroke="#2b2b2b" stroke-width="1.3"/>
<line x1="501.5" y1="536" x2="504.7" y2="536" stroke="#2b2b2b" stroke-width="1.1"/>
<text x="499.1" y="539.54" font-size="9.9" text-anchor="end" fill="#2b2b2b">10</text>
<line x1="501.5" y1="485.01" x2="504.7" y2="485.01" stroke="#2b2b2b" stroke-width="1.1"/>
<text x="499.1" y="488.55" font-size="9.9" text-anchor="end" fill="#2b2b2b">20</text>
<line x1="502.9" y1="586.99" x2="504.7" y2="586.99" stroke="#2b2b2b" stroke-width="0.9"/>
<line x1="502.9" y1="573.58" x2="504.7" y2="573.58" stroke="#2b2b2b" stroke-width="0.9"/>
<line x1="502.9" y1="562.24" x2="504.7" y2="562.24" stroke="#2b2b2b" stroke-width="0.9"/>
<line x1="502.9" y1="552.42" x2="504.7" y2="552.42" stroke="#2b2b2b" stroke-width="0.9"/>
<line x1="502.9" y1="543.75" x2="504.7" y2="543.75" stroke="#2b2b2b" stroke-width="0.9"/>
<line x1="504.7" y1="592.5" x2="673.1" y2="592.5" stroke="#2b2b2b" stroke-width="1.3"/>
<text x="541.2" y="441.3" font-size="10.75" fill="#2b2b2b">Pose PCA loss (pix)</text>
<text x="529.4" y="464.8" font-size="10.2" fill="#2b2b2b">100%</text>
<text x="552.4" y="482" font-size="10.2" fill="#2b2b2b">50%</text>
<text x="614.9" y="464.8" font-size="10.2" fill="#2b2b2b">20%</text>
<line x1="539.5" y1="468" x2="539.5" y2="592.5" stroke="#222" stroke-width="1" stroke-dasharray="2.6 1.4"/>
<line x1="559.5" y1="484.5" x2="559.5" y2="592.5" stroke="#222" stroke-width="1" stroke-dasharray="2.6 1.4"/>
<line x1="622.2" y1="468" x2="622.2" y2="592.5" stroke="#222" stroke-width="1" stroke-dasharray="2.6 1.4"/>
<path d="M539.5 558.2 C542.67 553.89 545.83 548.84 549 545.27 C552.5 541.33 556 538.52 559.5 535.22 C562.33 532.55 565.17 529.68 568 527.32 C570.97 524.85 573.93 522.79 576.9 520.61 C580.27 518.14 583.63 515.58 587 513.37 C590.43 511.12 593.87 509.01 597.3 507.13 C601.53 504.81 605.77 502.7 610 500.83 C614.07 499.02 618.13 497.59 622.2 495.94 C627.53 493.77 632.87 491.67 638.2 489.36 C643.63 487 649.07 484.64 654.5 481.87 C658.27 479.95 662.03 477.62 665.8 475.5 L665.8 487.5 L654.5 493.33 L638.2 500.04 L622.2 505.86 L610 510.17 L597.3 515.87 L587 521.63 L576.9 528.39 L568 534.68 L559.5 542.18 L549 551.73 L539.5 564.2 Z" fill="#9a6cc2" fill-opacity="0.25" stroke="none"/>
<path d="M539.5 546.8 C542.67 542.1 545.83 536.59 549 532.7 C552.5 528.4 556 524.54 559.5 521.77 C565.3 517.17 571.1 514.63 576.9 511.02 C583.7 506.78 590.5 501.87 597.3 498.17 C601.53 495.86 605.77 493.52 610 491.97 C614.07 490.48 618.13 489.67 622.2 488.38 C627.53 486.7 632.87 484.51 638.2 482.87 C643.63 481.21 649.07 480.29 654.5 478.36 C658.27 477.02 662.03 474.79 665.8 473 L665.8 487 L654.5 491.64 L638.2 495.13 L622.2 499.62 L610 502.43 L597.3 507.83 L576.9 519.38 L559.5 529.03 L549 539.3 L539.5 552.8 Z" fill="#d0363a" fill-opacity="0.3" stroke="none"/>
<path d="M539.5 550 C542.67 545.33 545.83 539.81 549 536 C552.5 531.79 556 528.05 559.5 525.4 C565.3 521 571.1 518.65 576.9 515.2 C583.7 511.16 590.5 506.43 597.3 502.9 C601.53 500.7 605.77 498.44 610 497 C614.07 495.61 618.13 494.89 622.2 493.7 C627.53 492.14 632.87 490.1 638.2 488.6 C643.63 487.07 649.07 486.29 654.5 484.5 C658.27 483.26 662.03 481.1 665.8 479.4 L665.8 481.4 L654.5 486.5 L638.2 490.6 L622.2 495.7 L610 499 L597.3 504.9 L576.9 517.2 L559.5 527.4 L549 538 L539.5 552 Z" fill="#f0821c" fill-opacity="0.3" stroke="none"/>
<path d="M539.5 565 C542.67 560.83 545.83 555.8 549 552.5 C552.5 548.85 556 545.95 559.5 543.5 C565.3 539.44 571.1 536.16 576.9 533.5 C583.7 530.38 590.5 528.05 597.3 525.8 C601.53 524.4 605.77 523.24 610 522 C614.07 520.81 618.13 519.66 622.2 518.5 C627.53 516.98 632.87 515.3 638.2 514 C643.63 512.68 649.07 511.66 654.5 510.5 C658.27 509.7 662.03 508.9 665.8 508.1 L665.8 512.1 L654.5 514.5 L638.2 518 L622.2 522.5 L610 526 L597.3 529.8 L576.9 537.5 L559.5 547.5 L549 556.5 L539.5 569 Z" fill="#33a03a" fill-opacity="0.28" stroke="none"/>
<path d="M539.5 564.8 C542.67 560.7 545.83 555.82 549 552.5 C552.5 548.83 556 545.8 559.5 543.3 C565.3 539.16 571.1 535.88 576.9 533.1 C583.7 529.84 590.5 527.42 597.3 524.9 C601.53 523.33 605.77 521.87 610 520.5 C614.07 519.19 618.13 518.06 622.2 516.8 C627.53 515.14 632.87 513.2 638.2 511.7 C643.63 510.17 649.07 509.03 654.5 507.6 C658.27 506.61 662.03 505.53 665.8 504.5 L665.8 509.5 L654.5 512.6 L638.2 516.7 L622.2 521.8 L610 525.5 L597.3 529.9 L576.9 538.1 L559.5 548.3 L549 557.5 L539.5 569.8 Z" fill="#2b78b4" fill-opacity="0.28" stroke="none"/>
<path d="M539.5 561.2 C542.67 556.97 545.83 551.99 549 548.5 C552.5 544.64 556 541.92 559.5 538.7 C562.33 536.1 565.17 533.29 568 531 C570.97 528.6 573.93 526.61 576.9 524.5 C580.27 522.1 583.63 519.63 587 517.5 C590.43 515.33 593.87 513.3 597.3 511.5 C601.53 509.28 605.77 507.27 610 505.5 C614.07 503.8 618.13 502.45 622.2 500.9 C627.53 498.86 632.87 496.89 638.2 494.7 C643.63 492.47 649.07 490.24 654.5 487.6 C658.27 485.77 662.03 483.53 665.8 481.5" fill="none" stroke="#9a6cc2" stroke-width="2.5" stroke-linejoin="round" stroke-linecap="round"/>
<path d="M539.5 549.8 C542.67 545.2 545.83 539.78 549 536 C552.5 531.82 556 528.05 559.5 525.4 C565.3 521 571.1 518.63 576.9 515.2 C583.7 511.18 590.5 506.49 597.3 503 C601.53 500.83 605.77 498.61 610 497.2 C614.07 495.85 618.13 495.16 622.2 494 C627.53 492.48 632.87 490.47 638.2 489 C643.63 487.51 649.07 486.75 654.5 485 C658.27 483.79 662.03 481.67 665.8 480" fill="none" stroke="#d0363a" stroke-width="2.5" stroke-linejoin="round" stroke-linecap="round"/>
<path d="M539.5 551 C542.67 546.33 545.83 540.81 549 537 C552.5 532.79 556 529.05 559.5 526.4 C565.3 522 571.1 519.65 576.9 516.2 C583.7 512.16 590.5 507.43 597.3 503.9 C601.53 501.7 605.77 499.44 610 498 C614.07 496.61 618.13 495.89 622.2 494.7 C627.53 493.14 632.87 491.1 638.2 489.6 C643.63 488.07 649.07 487.29 654.5 485.5 C658.27 484.26 662.03 482.1 665.8 480.4" fill="none" stroke="#f0821c" stroke-width="2.5" stroke-linejoin="round" stroke-linecap="round"/>
<path d="M539.5 567 C542.67 562.83 545.83 557.8 549 554.5 C552.5 550.85 556 547.95 559.5 545.5 C565.3 541.44 571.1 538.16 576.9 535.5 C583.7 532.38 590.5 530.05 597.3 527.8 C601.53 526.4 605.77 525.24 610 524 C614.07 522.81 618.13 521.66 622.2 520.5 C627.53 518.98 632.87 517.3 638.2 516 C643.63 514.68 649.07 513.66 654.5 512.5 C658.27 511.7 662.03 510.9 665.8 510.1" fill="none" stroke="#33a03a" stroke-width="2.5" stroke-linejoin="round" stroke-linecap="round"/>
<path d="M539.5 567.3 C542.67 563.2 545.83 558.32 549 555 C552.5 551.33 556 548.3 559.5 545.8 C565.3 541.66 571.1 538.38 576.9 535.6 C583.7 532.34 590.5 529.92 597.3 527.4 C601.53 525.83 605.77 524.37 610 523 C614.07 521.69 618.13 520.56 622.2 519.3 C627.53 517.64 632.87 515.7 638.2 514.2 C643.63 512.67 649.07 511.53 654.5 510.1 C658.27 509.11 662.03 508.03 665.8 507" fill="none" stroke="#2b78b4" stroke-width="2.5" stroke-linejoin="round" stroke-linecap="round"/>
<line x1="65.9" y1="649.1" x2="65.9" y2="774" stroke="#2b2b2b" stroke-width="1.3"/>
<line x1="62.7" y1="735" x2="65.9" y2="735" stroke="#2b2b2b" stroke-width="1.1"/>
<text x="59.5" y="738.54" font-size="9.9" text-anchor="end" fill="#2b2b2b">10</text>
<line x1="62.7" y1="689.09" x2="65.9" y2="689.09" stroke="#2b2b2b" stroke-width="1.1"/>
<text x="59.5" y="692.64" font-size="9.9" text-anchor="end" fill="#2b2b2b">20</text>
<line x1="62.7" y1="662.24" x2="65.9" y2="662.24" stroke="#2b2b2b" stroke-width="1.1"/>
<text x="59.5" y="665.78" font-size="9.9" text-anchor="end" fill="#2b2b2b">30</text>
<line x1="64.1" y1="768.83" x2="65.9" y2="768.83" stroke="#2b2b2b" stroke-width="0.9"/>
<line x1="64.1" y1="758.62" x2="65.9" y2="758.62" stroke="#2b2b2b" stroke-width="0.9"/>
<line x1="64.1" y1="749.78" x2="65.9" y2="749.78" stroke="#2b2b2b" stroke-width="0.9"/>
<line x1="64.1" y1="741.98" x2="65.9" y2="741.98" stroke="#2b2b2b" stroke-width="0.9"/>
<line x1="65.9" y1="774" x2="234.5" y2="774" stroke="#2b2b2b" stroke-width="1.3"/>
<text x="80.7" y="630.7" font-size="10.75" fill="#2b2b2b">Temporal difference loss (pix)</text>
<text x="79.3" y="647.2" font-size="10.2" fill="#2b2b2b">100%</text>
<text x="91.7" y="661.8" font-size="10.2" fill="#2b2b2b">50%</text>
<text x="168.2" y="647.1" font-size="10.2" fill="#2b2b2b">5%</text>
<line x1="88.4" y1="650" x2="88.4" y2="774" stroke="#555" stroke-width="0.9" stroke-dasharray="2 1.3"/>
<line x1="96.7" y1="665.2" x2="96.7" y2="774" stroke="#555" stroke-width="0.9" stroke-dasharray="2 1.3"/>
<line x1="171.6" y1="650" x2="171.6" y2="774" stroke="#222" stroke-width="1" stroke-dasharray="2.6 1.4"/>
<path d="M88.4 750.9 C89.77 747.92 91.13 744.78 92.5 741.96 C93.9 739.06 95.3 736.77 96.7 733.71 C97.97 730.94 99.23 727.05 100.5 724.37 C102.07 721.05 103.63 718.36 105.2 715.72 C106.8 713.02 108.4 710.33 110 708.27 C112.03 705.64 114.07 704.04 116.1 701.6 C117.73 699.64 119.37 697.15 121 695.15 C123 692.69 125 690.38 127 688.28 C129.33 685.83 131.67 683.69 134 681.51 C136 679.63 138 677.62 140 676.04 C142 674.46 144 673.1 146 671.88 C148.63 670.26 151.27 669.02 153.9 667.59 C156.6 666.13 159.3 664.37 162 663.2 C165.2 661.82 168.4 660.65 171.6 659.8 C174.4 659.06 177.2 658.48 180 658.01 C182.83 657.53 185.67 657.02 188.5 656.81 C195.43 656.31 202.37 656.22 209.3 655.89 C215.1 655.61 220.9 655.3 226.7 655 L226.7 663 L209.3 663.51 L188.5 663.99 L180 664.99 L171.6 666.6 L162 669.8 L153.9 674.01 L146 678.12 L140 682.16 L134 687.49 L127 694.12 L121 700.85 L116.1 707.2 L110 713.73 L105.2 721.08 L100.5 729.63 L96.7 738.89 L92.5 747.04 L88.4 755.9 Z" fill="#9a6cc2" fill-opacity="0.3" stroke="none"/>
<path d="M88.4 757 C89.77 754.32 91.13 751.61 92.5 748.97 C93.9 746.26 95.3 743.91 96.7 740.94 C97.97 738.25 99.23 734.45 100.5 731.91 C102.07 728.78 103.63 726.44 105.2 723.88 C106.8 721.26 108.4 718.57 110 716.34 C112.03 713.52 114.07 711.51 116.1 708.8 C117.73 706.62 119.37 703.82 121 701.76 C123 699.25 125 697.05 127 695.12 C129.33 692.87 131.67 691.08 134 689.17 C136 687.53 138 685.84 140 684.43 C142 683.01 144 681.71 146 680.58 C148.63 679.09 151.27 677.72 153.9 676.63 C156.6 675.51 159.3 674.5 162 673.77 C165.2 672.91 168.4 672.29 171.6 671.7 C174.4 671.18 177.2 670.69 180 670.34 C182.83 669.98 185.67 669.52 188.5 669.48 C195.43 669.37 202.37 669.33 209.3 669.33 C215.1 669.33 220.9 669.44 226.7 669.5 L226.7 675.5 L209.3 675.07 L188.5 674.92 L180 675.66 L171.6 676.9 L162 678.83 L153.9 681.57 L146 685.42 L140 689.17 L134 693.83 L127 699.68 L121 706.24 L116.1 713.2 L110 720.66 L105.2 728.12 L100.5 736.09 L96.7 745.06 L92.5 753.03 L88.4 761 Z" fill="#d0363a" fill-opacity="0.28" stroke="none"/>
<path d="M88.4 761.5 C89.77 759.33 91.13 757.14 92.5 755 C93.9 752.81 95.3 750.86 96.7 748.5 C97.97 746.37 99.23 743.51 100.5 741.5 C102.07 739.01 103.63 737.22 105.2 735 C106.8 732.73 108.4 730.05 110 728 C112.03 725.4 114.07 723.69 116.1 721.1 C117.73 719.02 119.37 716.1 121 714 C123 711.43 125 709.26 127 707.1 C129.33 704.58 131.67 702.24 134 700 C136 698.08 138 696.15 140 694.5 C142 692.85 144 691.2 146 690 C148.63 688.42 151.27 687.33 153.9 686.1 C156.6 684.84 159.3 683.48 162 682.5 C165.2 681.34 168.4 680.22 171.6 679.6 C174.4 679.06 177.2 678.66 180 678.4 C182.83 678.13 185.67 677.85 188.5 677.8 C195.43 677.67 202.37 677.67 209.3 677.6 C215.1 677.54 220.9 677.47 226.7 677.4 L226.7 681.4 L209.3 681.6 L188.5 681.8 L180 682.4 L171.6 683.6 L162 686.5 L153.9 690.1 L146 694 L140 698.5 L134 704 L127 711.1 L121 718 L116.1 725.1 L110 732 L105.2 739 L100.5 745.5 L96.7 752.5 L92.5 759 L88.4 765.5 Z" fill="#f0821c" fill-opacity="0.28" stroke="none"/>
<path d="M88.4 759.6 C89.77 757.23 91.13 754.79 92.5 752.5 C93.9 750.16 95.3 748.36 96.7 745.7 C97.97 743.29 99.23 739.43 100.5 737 C102.07 733.99 103.63 731.86 105.2 729.3 C106.8 726.69 108.4 723.78 110 721.5 C112.03 718.6 114.07 716.68 116.1 713.8 C117.73 711.49 119.37 708.35 121 706 C123 703.13 125 700.1 127 698.2 C129.33 695.98 131.67 694.7 134 693 C136 691.54 138 690.03 140 688.7 C142 687.37 144 685.99 146 685 C148.63 683.7 151.27 682.78 153.9 681.8 C156.6 680.79 159.3 679.73 162 679 C165.2 678.14 168.4 677.45 171.6 676.9 C174.4 676.42 177.2 676.02 180 675.7 C182.83 675.38 185.67 674.96 188.5 674.9 C195.43 674.76 202.37 674.75 209.3 674.7 C215.1 674.66 220.9 674.63 226.7 674.6 L226.7 677.6 L209.3 677.7 L188.5 677.9 L180 678.7 L171.6 679.9 L162 682 L153.9 684.8 L146 688 L140 691.7 L134 696 L127 701.2 L121 709 L116.1 716.8 L110 724.5 L105.2 732.3 L100.5 740 L96.7 748.7 L92.5 755.5 L88.4 762.6 Z" fill="#33a03a" fill-opacity="0.28" stroke="none"/>
<path d="M88.4 766.9 C89.77 764.6 91.13 762.17 92.5 760 C93.9 757.78 95.3 756.12 96.7 753.7 C97.97 751.51 99.23 748.32 100.5 746 C102.07 743.13 103.63 740.48 105.2 738.2 C106.8 735.87 108.4 733.84 110 732 C112.03 729.66 114.07 728.18 116.1 725.7 C117.73 723.71 119.37 720.6 121 718.5 C123 715.93 125 713.69 127 711.7 C129.33 709.37 131.67 707.6 134 705.5 C136 703.7 138 701.54 140 700 C142 698.46 144 697.09 146 696 C148.63 694.56 151.27 693.55 153.9 692.4 C156.6 691.22 159.3 689.95 162 689 C165.2 687.87 168.4 686.75 171.6 686.1 C174.4 685.53 177.2 685.1 180 684.8 C182.83 684.5 185.67 684.1 188.5 684.1 C195.43 684.1 202.37 684.3 209.3 684.3 C215.1 684.3 220.9 683.97 226.7 683.8 L226.7 687.8 L209.3 688.3 L188.5 688.1 L180 688.8 L171.6 690.1 L162 693 L153.9 696.4 L146 700 L140 704 L134 709.5 L127 715.7 L121 722.5 L116.1 729.7 L110 736 L105.2 742.2 L100.5 750 L96.7 757.7 L92.5 764 L88.4 770.9 Z" fill="#2b78b4" fill-opacity="0.28" stroke="none"/>
<path d="M88.4 753.4 C89.77 750.43 91.13 747.31 92.5 744.5 C93.9 741.62 95.3 739.35 96.7 736.3 C97.97 733.54 99.23 729.67 100.5 727 C102.07 723.7 103.63 721.02 105.2 718.4 C106.8 715.72 108.4 713.05 110 711 C112.03 708.4 114.07 706.81 116.1 704.4 C117.73 702.46 119.37 699.99 121 698 C123 695.57 125 693.28 127 691.2 C129.33 688.77 131.67 686.66 134 684.5 C136 682.65 138 680.65 140 679.1 C142 677.55 144 676.2 146 675 C148.63 673.42 151.27 672.2 153.9 670.8 C156.6 669.37 159.3 667.63 162 666.5 C165.2 665.16 168.4 664.01 171.6 663.2 C174.4 662.49 177.2 661.94 180 661.5 C182.83 661.05 185.67 660.56 188.5 660.4 C195.43 660 202.37 659.95 209.3 659.7 C215.1 659.49 220.9 659.23 226.7 659" fill="none" stroke="#9a6cc2" stroke-width="2.5" stroke-linejoin="round" stroke-linecap="round"/>
<path d="M88.4 759 C89.77 756.33 91.13 753.63 92.5 751 C93.9 748.3 95.3 745.96 96.7 743 C97.97 740.32 99.23 736.52 100.5 734 C102.07 730.88 103.63 728.55 105.2 726 C106.8 723.39 108.4 720.71 110 718.5 C112.03 715.69 114.07 713.69 116.1 711 C117.73 708.84 119.37 706.04 121 704 C123 701.5 125 699.32 127 697.4 C129.33 695.17 131.67 693.39 134 691.5 C136 689.88 138 688.2 140 686.8 C142 685.4 144 684.12 146 683 C148.63 681.53 151.27 680.17 153.9 679.1 C156.6 678 159.3 677.01 162 676.3 C165.2 675.46 168.4 674.87 171.6 674.3 C174.4 673.8 177.2 673.33 180 673 C182.83 672.67 185.67 672.2 188.5 672.2 C195.43 672.2 202.37 672.2 209.3 672.2 C215.1 672.2 220.9 672.4 226.7 672.5" fill="none" stroke="#d0363a" stroke-width="2.5" stroke-linejoin="round" stroke-linecap="round"/>
<path d="M88.4 763.5 C89.77 761.33 91.13 759.14 92.5 757 C93.9 754.81 95.3 752.86 96.7 750.5 C97.97 748.37 99.23 745.51 100.5 743.5 C102.07 741.01 103.63 739.22 105.2 737 C106.8 734.73 108.4 732.05 110 730 C112.03 727.4 114.07 725.69 116.1 723.1 C117.73 721.02 119.37 718.1 121 716 C123 713.43 125 711.26 127 709.1 C129.33 706.58 131.67 704.24 134 702 C136 700.08 138 698.15 140 696.5 C142 694.85 144 693.2 146 692 C148.63 690.42 151.27 689.33 153.9 688.1 C156.6 686.84 159.3 685.48 162 684.5 C165.2 683.34 168.4 682.22 171.6 681.6 C174.4 681.06 177.2 680.66 180 680.4 C182.83 680.13 185.67 679.85 188.5 679.8 C195.43 679.67 202.37 679.67 209.3 679.6 C215.1 679.54 220.9 679.47 226.7 679.4" fill="none" stroke="#f0821c" stroke-width="2.5" stroke-linejoin="round" stroke-linecap="round"/>
<path d="M88.4 761.1 C89.77 758.73 91.13 756.29 92.5 754 C93.9 751.66 95.3 749.86 96.7 747.2 C97.97 744.79 99.23 740.93 100.5 738.5 C102.07 735.49 103.63 733.36 105.2 730.8 C106.8 728.19 108.4 725.28 110 723 C112.03 720.1 114.07 718.18 116.1 715.3 C117.73 712.99 119.37 709.85 121 707.5 C123 704.63 125 701.6 127 699.7 C129.33 697.48 131.67 696.2 134 694.5 C136 693.04 138 691.53 140 690.2 C142 688.87 144 687.49 146 686.5 C148.63 685.2 151.27 684.28 153.9 683.3 C156.6 682.29 159.3 681.23 162 680.5 C165.2 679.64 168.4 678.95 171.6 678.4 C174.4 677.92 177.2 677.52 180 677.2 C182.83 676.88 185.67 676.46 188.5 676.4 C195.43 676.26 202.37 676.25 209.3 676.2 C215.1 676.16 220.9 676.13 226.7 676.1" fill="none" stroke="#33a03a" stroke-width="2.5" stroke-linejoin="round" stroke-linecap="round"/>
<path d="M88.4 768.9 C89.77 766.6 91.13 764.17 92.5 762 C93.9 759.78 95.3 758.12 96.7 755.7 C97.97 753.51 99.23 750.32 100.5 748 C102.07 745.13 103.63 742.48 105.2 740.2 C106.8 737.87 108.4 735.84 110 734 C112.03 731.66 114.07 730.18 116.1 727.7 C117.73 725.71 119.37 722.6 121 720.5 C123 717.93 125 715.69 127 713.7 C129.33 711.37 131.67 709.6 134 707.5 C136 705.7 138 703.54 140 702 C142 700.46 144 699.09 146 698 C148.63 696.56 151.27 695.55 153.9 694.4 C156.6 693.22 159.3 691.95 162 691 C165.2 689.87 168.4 688.75 171.6 688.1 C174.4 687.53 177.2 687.1 180 686.8 C182.83 686.5 185.67 686.1 188.5 686.1 C195.43 686.1 202.37 686.3 209.3 686.3 C215.1 686.3 220.9 685.97 226.7 685.8" fill="none" stroke="#2b78b4" stroke-width="2.5" stroke-linejoin="round" stroke-linecap="round"/>
<text x="74" y="786" font-size="9.4" text-anchor="middle" fill="#2b2b2b">0</text>
<text x="152.4" y="786" font-size="9.4" text-anchor="middle" fill="#2b2b2b">5</text>
<text x="231" y="786" font-size="9.4" text-anchor="middle" fill="#2b2b2b">10</text>
<text x="149.9" y="802" font-size="10.76" text-anchor="middle" fill="#2b2b2b">Ensemble std dev</text>
<line x1="284.9" y1="648.6" x2="284.9" y2="774.1" stroke="#2b2b2b" stroke-width="1.3"/>
<line x1="281.7" y1="719.8" x2="284.9" y2="719.8" stroke="#2b2b2b" stroke-width="1.1"/>
<text x="278.9" y="723.34" font-size="9.9" text-anchor="end" fill="#2b2b2b">10</text>
<line x1="281.7" y1="681.9" x2="284.9" y2="681.9" stroke="#2b2b2b" stroke-width="1.1"/>
<text x="278.9" y="685.44" font-size="9.9" text-anchor="end" fill="#2b2b2b">20</text>
<line x1="281.7" y1="659.73" x2="284.9" y2="659.73" stroke="#2b2b2b" stroke-width="1.1"/>
<text x="278.9" y="663.27" font-size="9.9" text-anchor="end" fill="#2b2b2b">30</text>
<line x1="283.1" y1="769.9" x2="284.9" y2="769.9" stroke="#2b2b2b" stroke-width="0.9"/>
<line x1="283.1" y1="757.7" x2="284.9" y2="757.7" stroke="#2b2b2b" stroke-width="0.9"/>
<line x1="283.1" y1="747.73" x2="284.9" y2="747.73" stroke="#2b2b2b" stroke-width="0.9"/>
<line x1="283.1" y1="739.3" x2="284.9" y2="739.3" stroke="#2b2b2b" stroke-width="0.9"/>
<line x1="283.1" y1="732" x2="284.9" y2="732" stroke="#2b2b2b" stroke-width="0.9"/>
<line x1="283.1" y1="725.56" x2="284.9" y2="725.56" stroke="#2b2b2b" stroke-width="0.9"/>
<line x1="284.9" y1="774.1" x2="454.4" y2="774.1" stroke="#2b2b2b" stroke-width="1.3"/>
<text x="309.5" y="631.2" font-size="10.75" fill="#2b2b2b">Multi-view PCA loss (pix)</text>
<text x="298.6" y="647.4" font-size="10.2" fill="#2b2b2b">100%</text>
<text x="310.2" y="662.6" font-size="10.2" fill="#2b2b2b">50%</text>
<text x="387.6" y="647.4" font-size="10.2" fill="#2b2b2b">5%</text>
<line x1="308.1" y1="650" x2="308.1" y2="774.1" stroke="#555" stroke-width="0.9" stroke-dasharray="2 1.3"/>
<line x1="316.2" y1="665.5" x2="316.2" y2="774.1" stroke="#222" stroke-width="1" stroke-dasharray="2.6 1.4"/>
<line x1="391.3" y1="650" x2="391.3" y2="774.1" stroke="#222" stroke-width="1" stroke-dasharray="2.6 1.4"/>
<path d="M308.1 756.5 C309.4 754 310.7 751.32 312 749 C313.4 746.5 314.8 744.53 316.2 742 C317.63 739.41 319.07 736.21 320.5 733.5 C322.07 730.54 323.63 727.39 325.2 725 C328.07 720.63 330.93 717.49 333.8 714 C335.37 712.09 336.93 710.29 338.5 708.5 C340.3 706.45 342.1 704.42 343.9 702.5 C347 699.19 350.1 695.66 353.2 693 C356.83 689.88 360.47 687.26 364.1 685 C368.77 682.09 373.43 679.77 378.1 677.5 C382.5 675.36 386.9 672.82 391.3 671.6 C397.87 669.78 404.43 668.53 411 667.8 C417.33 667.09 423.67 666.7 430 666.3 C435.57 665.94 441.13 665.7 446.7 665.4 L446.7 670.4 L430 671.3 L411 672.8 L391.3 676.6 L378.1 682.5 L364.1 690 L353.2 698 L343.9 707.5 L338.5 713.5 L333.8 719 L325.2 730 L320.5 738.5 L316.2 747 L312 754 L308.1 761.5 Z" fill="#9a6cc2" fill-opacity="0.28" stroke="none"/>
<path d="M308.1 756.3 C309.4 753.53 310.7 750.49 312 748 C313.4 745.32 314.8 743.32 316.2 740.7 C317.63 738.02 319.07 734.72 320.5 732 C322.07 729.02 323.63 725.96 325.2 723.6 C328.07 719.28 330.93 716.85 333.8 712.7 C335.37 710.43 336.93 707.41 338.5 705 C340.3 702.23 342.1 699.55 343.9 697.2 C347 693.15 350.1 689.22 353.2 686.3 C356.83 682.88 360.47 680.18 364.1 677.8 C368.77 674.75 373.43 672.54 378.1 670 C382.5 667.61 386.9 664.68 391.3 663 C397.87 660.49 404.43 658.02 411 657.3 C417.33 656.6 423.67 656.33 430 656 C435.57 655.71 441.13 655.53 446.7 655.3 L446.7 657.3 L430 658 L411 659.3 L391.3 665 L378.1 672 L364.1 679.8 L353.2 688.3 L343.9 699.2 L338.5 707 L333.8 714.7 L325.2 725.6 L320.5 734 L316.2 742.7 L312 750 L308.1 758.3 Z" fill="#d0363a" fill-opacity="0.25" stroke="none"/>
<path d="M308.1 756.3 C309.4 753.69 310.7 750.84 312 748.46 C313.4 745.89 314.8 743.96 316.2 741.41 C317.63 738.81 319.07 735.59 320.5 732.87 C322.07 729.89 323.63 726.72 325.2 724.31 C328.07 719.91 330.93 716.92 333.8 713.22 C335.37 711.2 336.93 709.12 338.5 707.17 C340.3 704.94 342.1 702.78 343.9 700.71 C347 697.15 350.1 693.37 353.2 690.51 C356.83 687.16 360.47 684.31 364.1 681.89 C368.77 678.79 373.43 676.19 378.1 673.94 C382.5 671.82 386.9 669.87 391.3 668.4 C397.87 666.21 404.43 663.97 411 663.09 C417.33 662.24 423.67 661.86 430 661.38 C435.57 660.96 441.13 660.66 446.7 660.3 L446.7 668.3 L430 669.02 L411 670.31 L391.3 675.2 L378.1 680.46 L364.1 688.11 L353.2 696.49 L343.9 706.49 L338.5 712.83 L333.8 718.78 L325.2 729.69 L320.5 738.13 L316.2 746.59 L312 753.54 L308.1 761.3 Z" fill="#f0821c" fill-opacity="0.28" stroke="none"/>
<path d="M308.1 758.9 C309.4 756.19 310.7 753.25 312 750.76 C313.4 748.07 314.8 745.92 316.2 743.31 C317.63 740.64 319.07 737.47 320.5 734.87 C322.07 732.01 323.63 729.14 325.2 726.91 C328.07 722.85 330.93 720.27 333.8 716.72 C335.37 714.78 336.93 712.63 338.5 710.67 C340.3 708.42 342.1 706.11 343.9 704.11 C347 700.66 350.1 697.29 353.2 694.71 C356.83 691.69 360.47 688.85 364.1 687.09 C368.77 684.84 373.43 683.87 378.1 682.04 C382.5 680.32 386.9 677.68 391.3 676.4 C397.87 674.49 404.43 672.79 411 672.19 C417.33 671.61 423.67 671.43 430 671.08 C435.57 670.77 441.13 670.49 446.7 670.2 L446.7 679.2 L430 679.72 L411 680.41 L391.3 684.2 L378.1 689.56 L364.1 694.31 L353.2 701.69 L343.9 710.89 L338.5 717.33 L333.8 723.28 L325.2 733.29 L320.5 741.13 L316.2 749.49 L312 756.84 L308.1 764.9 Z" fill="#33a03a" fill-opacity="0.28" stroke="none"/>
<path d="M308.1 768.3 C309.4 766 310.7 763.51 312 761.4 C313.4 759.12 314.8 757.31 316.2 755.1 C317.63 752.83 319.07 750.13 320.5 747.9 C322.07 745.47 323.63 743.07 325.2 741.1 C328.07 737.5 330.93 735.42 333.8 731.8 C335.37 729.82 336.93 727.08 338.5 724.9 C340.3 722.4 342.1 719.79 343.9 717.8 C347 714.38 350.1 711.54 353.2 709.2 C356.83 706.46 360.47 704.22 364.1 702.3 C368.77 699.83 373.43 698 378.1 696 C382.5 694.12 386.9 691.82 391.3 690.6 C397.87 688.78 404.43 687.23 411 686.6 C417.33 685.99 423.67 685.72 430 685.4 C435.57 685.12 441.13 684.93 446.7 684.7 L446.7 685.9 L430 686.6 L411 687.8 L391.3 691.8 L378.1 697.2 L364.1 703.5 L353.2 710.4 L343.9 719 L338.5 726.1 L333.8 733 L325.2 742.3 L320.5 749.1 L316.2 756.3 L312 762.6 L308.1 769.5 Z" fill="#2b78b4" fill-opacity="0.25" stroke="none"/>
<path d="M308.1 759 C309.4 756.5 310.7 753.82 312 751.5 C313.4 749 314.8 747.03 316.2 744.5 C317.63 741.91 319.07 738.71 320.5 736 C322.07 733.04 323.63 729.89 325.2 727.5 C328.07 723.13 330.93 719.99 333.8 716.5 C335.37 714.59 336.93 712.79 338.5 711 C340.3 708.95 342.1 706.92 343.9 705 C347 701.69 350.1 698.16 353.2 695.5 C356.83 692.38 360.47 689.76 364.1 687.5 C368.77 684.59 373.43 682.27 378.1 680 C382.5 677.86 386.9 675.32 391.3 674.1 C397.87 672.28 404.43 671.03 411 670.3 C417.33 669.59 423.67 669.2 430 668.8 C435.57 668.44 441.13 668.2 446.7 667.9" fill="none" stroke="#9a6cc2" stroke-width="2.5" stroke-linejoin="round" stroke-linecap="round"/>
<path d="M308.1 757.3 C309.4 754.53 310.7 751.49 312 749 C313.4 746.32 314.8 744.32 316.2 741.7 C317.63 739.02 319.07 735.72 320.5 733 C322.07 730.02 323.63 726.96 325.2 724.6 C328.07 720.28 330.93 717.85 333.8 713.7 C335.37 711.43 336.93 708.41 338.5 706 C340.3 703.23 342.1 700.55 343.9 698.2 C347 694.15 350.1 690.22 353.2 687.3 C356.83 683.88 360.47 681.18 364.1 678.8 C368.77 675.75 373.43 673.54 378.1 671 C382.5 668.61 386.9 665.68 391.3 664 C397.87 661.49 404.43 659.02 411 658.3 C417.33 657.6 423.67 657.33 430 657 C435.57 656.71 441.13 656.53 446.7 656.3" fill="none" stroke="#d0363a" stroke-width="2.5" stroke-linejoin="round" stroke-linecap="round"/>
<path d="M308.1 758.8 C309.4 756.2 310.7 753.37 312 751 C313.4 748.45 314.8 746.53 316.2 744 C317.63 741.41 319.07 738.21 320.5 735.5 C322.07 732.54 323.63 729.39 325.2 727 C328.07 722.63 330.93 719.66 333.8 716 C335.37 714 336.93 711.93 338.5 710 C340.3 707.79 342.1 705.65 343.9 703.6 C347 700.07 350.1 696.33 353.2 693.5 C356.83 690.19 360.47 687.38 364.1 685 C368.77 681.95 373.43 679.4 378.1 677.2 C382.5 675.13 386.9 673.22 391.3 671.8 C397.87 669.69 404.43 667.49 411 666.7 C417.33 665.94 423.67 665.6 430 665.2 C435.57 664.84 441.13 664.6 446.7 664.3" fill="none" stroke="#f0821c" stroke-width="2.5" stroke-linejoin="round" stroke-linecap="round"/>
<path d="M308.1 761.9 C309.4 759.2 310.7 756.28 312 753.8 C313.4 751.13 314.8 748.99 316.2 746.4 C317.63 743.74 319.07 740.59 320.5 738 C322.07 735.17 323.63 732.3 325.2 730.1 C328.07 726.07 330.93 723.52 333.8 720 C335.37 718.08 336.93 715.94 338.5 714 C340.3 711.77 342.1 709.48 343.9 707.5 C347 704.09 350.1 700.74 353.2 698.2 C356.83 695.22 360.47 692.41 364.1 690.7 C368.77 688.51 373.43 687.58 378.1 685.8 C382.5 684.12 386.9 681.53 391.3 680.3 C397.87 678.47 404.43 676.8 411 676.3 C417.33 675.82 423.67 675.68 430 675.4 C435.57 675.15 441.13 674.93 446.7 674.7" fill="none" stroke="#33a03a" stroke-width="2.5" stroke-linejoin="round" stroke-linecap="round"/>
<path d="M308.1 768.9 C309.4 766.6 310.7 764.11 312 762 C313.4 759.72 314.8 757.91 316.2 755.7 C317.63 753.43 319.07 750.73 320.5 748.5 C322.07 746.07 323.63 743.67 325.2 741.7 C328.07 738.1 330.93 736.02 333.8 732.4 C335.37 730.42 336.93 727.68 338.5 725.5 C340.3 723 342.1 720.39 343.9 718.4 C347 714.98 350.1 712.14 353.2 709.8 C356.83 707.06 360.47 704.82 364.1 702.9 C368.77 700.43 373.43 698.6 378.1 696.6 C382.5 694.72 386.9 692.42 391.3 691.2 C397.87 689.38 404.43 687.83 411 687.2 C417.33 686.59 423.67 686.32 430 686 C435.57 685.72 441.13 685.53 446.7 685.3" fill="none" stroke="#2b78b4" stroke-width="2.5" stroke-linejoin="round" stroke-linecap="round"/>
<text x="293.3" y="786" font-size="9.4" text-anchor="middle" fill="#2b2b2b">0</text>
<text x="371.8" y="786" font-size="9.4" text-anchor="middle" fill="#2b2b2b">5</text>
<text x="450.3" y="786" font-size="9.4" text-anchor="middle" fill="#2b2b2b">10</text>
<text x="369.3" y="802" font-size="10.76" text-anchor="middle" fill="#2b2b2b">Ensemble std dev</text>
<line x1="504.6" y1="648.6" x2="504.6" y2="774.2" stroke="#2b2b2b" stroke-width="1.3"/>
<line x1="501.4" y1="717.9" x2="504.6" y2="717.9" stroke="#2b2b2b" stroke-width="1.1"/>
<text x="499.1" y="721.44" font-size="9.9" text-anchor="end" fill="#2b2b2b">10</text>
<line x1="501.4" y1="667" x2="504.6" y2="667" stroke="#2b2b2b" stroke-width="1.1"/>
<text x="499.1" y="670.54" font-size="9.9" text-anchor="end" fill="#2b2b2b">20</text>
<line x1="502.8" y1="768.8" x2="504.6" y2="768.8" stroke="#2b2b2b" stroke-width="0.9"/>
<line x1="502.8" y1="755.41" x2="504.6" y2="755.41" stroke="#2b2b2b" stroke-width="0.9"/>
<line x1="502.8" y1="744.09" x2="504.6" y2="744.09" stroke="#2b2b2b" stroke-width="0.9"/>
<line x1="502.8" y1="734.29" x2="504.6" y2="734.29" stroke="#2b2b2b" stroke-width="0.9"/>
<line x1="502.8" y1="725.64" x2="504.6" y2="725.64" stroke="#2b2b2b" stroke-width="0.9"/>
<line x1="504.6" y1="774.2" x2="672.9" y2="774.2" stroke="#2b2b2b" stroke-width="1.3"/>
<text x="541.6" y="632.2" font-size="10.75" fill="#2b2b2b">Pose PCA loss (pix)</text>
<text x="517.9" y="647.4" font-size="10.2" fill="#2b2b2b">100%</text>
<text x="530" y="661.9" font-size="10.2" fill="#2b2b2b">50%</text>
<text x="607" y="647.4" font-size="10.2" fill="#2b2b2b">5%</text>
<line x1="527.6" y1="650" x2="527.6" y2="774.2" stroke="#222" stroke-width="1" stroke-dasharray="2.6 1.4"/>
<line x1="535.3" y1="665" x2="535.3" y2="774.2" stroke="#222" stroke-width="1" stroke-dasharray="2.6 1.4"/>
<line x1="610.4" y1="650" x2="610.4" y2="774.2" stroke="#222" stroke-width="1" stroke-dasharray="2.6 1.4"/>
<path d="M527.6 760 C528.73 756.93 529.87 753.45 531 750.8 C532.43 747.45 533.87 744.57 535.3 742.05 C538.43 736.55 541.57 732.21 544.7 728.01 C549.07 722.15 553.43 716.03 557.8 712.24 C561.47 709.07 565.13 707.13 568.8 704.7 C573.17 701.81 577.53 699.11 581.9 696.34 C587.03 693.09 592.17 689.42 597.3 686.64 C601.67 684.28 606.03 681.92 610.4 680.38 C616.97 678.07 623.53 676.18 630.1 675.04 C637.4 673.77 644.7 673.16 652 672.26 C656.37 671.73 660.73 671.22 665.1 670.7 L665.1 690.7 L652 690.74 L630.1 690.96 L610.4 694.02 L597.3 698.76 L581.9 706.66 L568.8 713.5 L557.8 719.76 L544.7 733.99 L535.3 746.95 L531 755.2 L527.6 764 Z" fill="#9a6cc2" fill-opacity="0.22" stroke="none"/>
<path d="M527.6 757.6 C528.73 754.38 529.87 750.69 531 747.93 C532.43 744.43 533.87 741.36 535.3 738.83 C538.43 733.3 541.57 729.28 544.7 725.13 C549.07 719.33 553.43 713.64 557.8 709.34 C561.47 705.73 565.13 702.79 568.8 700.1 C573.17 696.89 577.53 693.67 581.9 691.62 C587.03 689.2 592.17 687.95 597.3 685.98 C601.67 684.3 606.03 681.89 610.4 680.69 C616.97 678.9 623.53 677.43 630.1 676.76 C637.4 676.02 644.7 675.71 652 675.29 C656.37 675.03 660.73 674.83 665.1 674.6 L665.1 684.6 L652 684.71 L630.1 685.24 L610.4 688.31 L597.3 693.02 L581.9 697.98 L568.8 705.9 L557.8 714.66 L544.7 729.87 L535.3 743.17 L531 752.07 L527.6 761.6 Z" fill="#d0363a" fill-opacity="0.25" stroke="none"/>
<path d="M527.6 759.6 C528.73 756.4 529.87 752.74 531 750 C532.43 746.53 533.87 743.47 535.3 741 C538.43 735.6 541.57 731.82 544.7 727.8 C549.07 722.2 553.43 716.62 557.8 712.5 C561.47 709.04 565.13 706.37 568.8 703.7 C573.17 700.52 577.53 697.04 581.9 695 C587.03 692.6 592.17 691.49 597.3 689.5 C601.67 687.81 606.03 685.2 610.4 684 C616.97 682.19 623.53 680.63 630.1 680.1 C637.4 679.51 644.7 679.27 652 679 C656.37 678.84 660.73 678.73 665.1 678.6 L665.1 680.6 L652 681 L630.1 682.1 L610.4 686 L597.3 691.5 L581.9 697 L568.8 705.7 L557.8 714.5 L544.7 729.8 L535.3 743 L531 752 L527.6 761.6 Z" fill="#f0821c" fill-opacity="0.25" stroke="none"/>
<path d="M527.6 762.7 C528.73 759.9 529.87 756.74 531 754.3 C532.43 751.22 533.87 748.54 535.3 746.2 C538.43 741.09 541.57 736.95 544.7 733.1 C549.07 727.74 553.43 722.59 557.8 718.9 C561.47 715.8 565.13 712.88 568.8 711.2 C573.17 709.2 577.53 708.15 581.9 706.8 C587.03 705.21 592.17 703.97 597.3 702.4 C601.67 701.06 606.03 699.09 610.4 698.1 C616.97 696.61 623.53 695.44 630.1 694.8 C637.4 694.08 644.7 693.73 652 693.3 C656.37 693.04 660.73 692.83 665.1 692.6 L665.1 695 L652 695.7 L630.1 697.2 L610.4 700.5 L597.3 704.8 L581.9 709.2 L568.8 713.6 L557.8 721.3 L544.7 735.5 L535.3 748.6 L531 756.7 L527.6 765.1 Z" fill="#33a03a" fill-opacity="0.25" stroke="none"/>
<path d="M527.6 767 C528.73 763.93 529.87 760.37 531 757.8 C532.43 754.55 533.87 751.97 535.3 749.5 C538.43 744.11 541.57 739.29 544.7 735.3 C549.07 729.74 553.43 725.1 557.8 721.1 C561.47 717.74 565.13 714.06 568.8 712.3 C573.17 710.21 577.53 709.05 581.9 707.9 C587.03 706.55 592.17 705.94 597.3 704.6 C601.67 703.46 606.03 701.29 610.4 700.3 C616.97 698.81 623.53 697.55 630.1 697 C637.4 696.39 644.7 696.16 652 695.8 C656.37 695.58 660.73 695.4 665.1 695.2 L665.1 697.6 L652 698.2 L630.1 699.4 L610.4 702.7 L597.3 707 L581.9 710.3 L568.8 714.7 L557.8 723.5 L544.7 737.7 L535.3 751.9 L531 760.2 L527.6 769.4 Z" fill="#2b78b4" fill-opacity="0.25" stroke="none"/>
<path d="M527.6 762 C528.73 759 529.87 755.58 531 753 C532.43 749.74 533.87 746.93 535.3 744.5 C538.43 739.18 541.57 735.02 544.7 731 C549.07 725.4 553.43 719.51 557.8 716 C561.47 713.05 565.13 711.31 568.8 709.1 C573.17 706.46 577.53 704.01 581.9 701.5 C587.03 698.54 592.17 695.17 597.3 692.7 C601.67 690.59 606.03 688.46 610.4 687.2 C616.97 685.3 623.53 683.69 630.1 683 C637.4 682.24 644.7 681.97 652 681.5 C656.37 681.22 660.73 680.97 665.1 680.7" fill="none" stroke="#9a6cc2" stroke-width="2.5" stroke-linejoin="round" stroke-linecap="round"/>
<path d="M527.6 759.6 C528.73 756.4 529.87 752.74 531 750 C532.43 746.53 533.87 743.5 535.3 741 C538.43 735.54 541.57 731.59 544.7 727.5 C549.07 721.8 553.43 716.2 557.8 712 C561.47 708.47 565.13 705.61 568.8 703 C573.17 699.89 577.53 696.75 581.9 694.8 C587.03 692.5 592.17 691.36 597.3 689.5 C601.67 687.92 606.03 685.59 610.4 684.5 C616.97 682.87 623.53 681.48 630.1 681 C637.4 680.46 644.7 680.26 652 680 C656.37 679.84 660.73 679.73 665.1 679.6" fill="none" stroke="#d0363a" stroke-width="2.5" stroke-linejoin="round" stroke-linecap="round"/>
<path d="M527.6 760.6 C528.73 757.4 529.87 753.74 531 751 C532.43 747.53 533.87 744.47 535.3 742 C538.43 736.6 541.57 732.82 544.7 728.8 C549.07 723.2 553.43 717.62 557.8 713.5 C561.47 710.04 565.13 707.37 568.8 704.7 C573.17 701.52 577.53 698.04 581.9 696 C587.03 693.6 592.17 692.49 597.3 690.5 C601.67 688.81 606.03 686.2 610.4 685 C616.97 683.19 623.53 681.63 630.1 681.1 C637.4 680.51 644.7 680.27 652 680 C656.37 679.84 660.73 679.73 665.1 679.6" fill="none" stroke="#f0821c" stroke-width="2.5" stroke-linejoin="round" stroke-linecap="round"/>
<path d="M527.6 763.9 C528.73 761.1 529.87 757.94 531 755.5 C532.43 752.42 533.87 749.74 535.3 747.4 C538.43 742.29 541.57 738.15 544.7 734.3 C549.07 728.94 553.43 723.79 557.8 720.1 C561.47 717 565.13 714.08 568.8 712.4 C573.17 710.4 577.53 709.35 581.9 708 C587.03 706.41 592.17 705.17 597.3 703.6 C601.67 702.26 606.03 700.29 610.4 699.3 C616.97 697.81 623.53 696.64 630.1 696 C637.4 695.28 644.7 694.93 652 694.5 C656.37 694.24 660.73 694.03 665.1 693.8" fill="none" stroke="#33a03a" stroke-width="2.5" stroke-linejoin="round" stroke-linecap="round"/>
<path d="M527.6 768.2 C528.73 765.13 529.87 761.57 531 759 C532.43 755.75 533.87 753.17 535.3 750.7 C538.43 745.31 541.57 740.49 544.7 736.5 C549.07 730.94 553.43 726.3 557.8 722.3 C561.47 718.94 565.13 715.26 568.8 713.5 C573.17 711.41 577.53 710.25 581.9 709.1 C587.03 707.75 592.17 707.14 597.3 705.8 C601.67 704.66 606.03 702.49 610.4 701.5 C616.97 700.01 623.53 698.75 630.1 698.2 C637.4 697.59 644.7 697.36 652 697 C656.37 696.78 660.73 696.6 665.1 696.4" fill="none" stroke="#2b78b4" stroke-width="2.5" stroke-linejoin="round" stroke-linecap="round"/>
<text x="512.6" y="786" font-size="9.4" text-anchor="middle" fill="#2b2b2b">0</text>
<text x="591.1" y="786" font-size="9.4" text-anchor="middle" fill="#2b2b2b">5</text>
<text x="669.5" y="786" font-size="9.4" text-anchor="middle" fill="#2b2b2b">10</text>
<text x="588.5" y="802" font-size="10.76" text-anchor="middle" fill="#2b2b2b">Ensemble std dev</text>
</svg></body></html>
